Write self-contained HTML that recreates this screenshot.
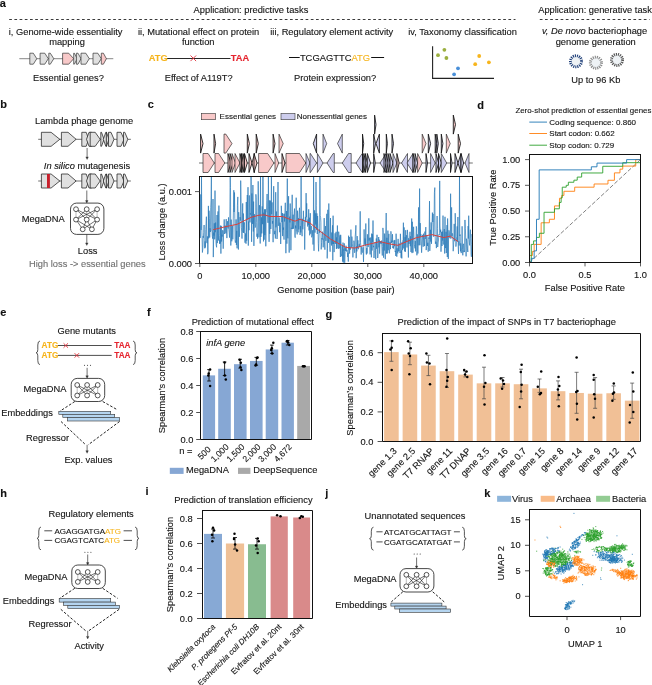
<!DOCTYPE html>
<html><head><meta charset="utf-8"><style>
html,body{margin:0;padding:0;background:#fff;}
svg{display:block;will-change:transform;}
text{font-family:"Liberation Sans", sans-serif;}
</style></head><body>
<svg width="652" height="685" viewBox="0 0 652 685" font-family='"Liberation Sans", sans-serif'>
<rect width="652" height="685" fill="#fff"/>
<text x="-0.30" y="6.70" font-size="11" font-weight="bold" fill="#111" stroke="#111" stroke-width="0.12">a</text>
<text x="193.60" y="13.00" font-size="9.3" fill="#141414" stroke="#141414" stroke-width="0.12">Application: predictive tasks</text>
<line x1="9.20" y1="19.50" x2="515.50" y2="19.50" stroke="#3a3a3a" stroke-width="1.0" stroke-dasharray="2.7,2.5"/>
<text x="538.20" y="12.60" font-size="9.3" fill="#141414" stroke="#141414" stroke-width="0.12">Application: generative task</text>
<line x1="539.80" y1="19.50" x2="649.50" y2="19.50" stroke="#3a3a3a" stroke-width="1.0" stroke-dasharray="2.7,2.5"/>
<text x="8.80" y="34.70" font-size="9.3" fill="#141414" stroke="#141414" stroke-width="0.12">i, Genome-wide essentiality</text>
<text x="67.00" y="45.00" font-size="9.3" text-anchor="middle" fill="#141414" stroke="#141414" stroke-width="0.12">mapping</text>
<text x="137.90" y="34.70" font-size="9.3" fill="#141414" stroke="#141414" stroke-width="0.12">ii, Mutational effect on protein</text>
<text x="198.20" y="45.00" font-size="9.3" text-anchor="middle" fill="#141414" stroke="#141414" stroke-width="0.12">function</text>
<text x="270.30" y="34.70" font-size="9.3" fill="#141414" stroke="#141414" stroke-width="0.12">iii, Regulatory element activity</text>
<text x="408.20" y="34.70" font-size="9.3" fill="#141414" stroke="#141414" stroke-width="0.12">iv, Taxonomy classification</text>
<text x="541.9" y="34.4" font-size="9.3" fill="#141414" stroke="#141414" stroke-width="0.12"><tspan font-style="italic">v, De novo</tspan> bacteriophage</text>
<text x="595.70" y="45.00" font-size="9.3" text-anchor="middle" fill="#141414" stroke="#141414" stroke-width="0.12">genome generation</text>
<line x1="19.30" y1="58.70" x2="113.30" y2="58.70" stroke="#555" stroke-width="0.7"/>
<polygon points="29.80,53.20 33.30,53.20 36.80,58.70 33.30,64.20 29.80,64.20" fill="#E0E0E0" stroke="#333" stroke-width="0.7" stroke-linejoin="round"/>
<polygon points="40.10,53.20 44.80,53.20 48.30,58.70 44.80,64.20 40.10,64.20" fill="#E0E0E0" stroke="#333" stroke-width="0.7" stroke-linejoin="round"/>
<polygon points="48.80,53.20 50.30,53.20 53.80,58.70 50.30,64.20 48.80,64.20" fill="#E0E0E0" stroke="#333" stroke-width="0.7" stroke-linejoin="round"/>
<polygon points="62.60,53.20 68.70,53.20 73.70,58.70 68.70,64.20 62.60,64.20" fill="#F8C9C9" stroke="#333" stroke-width="0.7" stroke-linejoin="round"/>
<polygon points="73.70,53.20 74.30,53.20 77.30,58.70 74.30,64.20 73.70,64.20" fill="#E0E0E0" stroke="#333" stroke-width="0.7" stroke-linejoin="round"/>
<polygon points="76.40,53.20 78.00,53.20 81.00,58.70 78.00,64.20 76.40,64.20" fill="#E0E0E0" stroke="#333" stroke-width="0.7" stroke-linejoin="round"/>
<polygon points="81.00,53.20 85.80,53.20 89.30,58.70 85.80,64.20 81.00,64.20" fill="#E0E0E0" stroke="#333" stroke-width="0.7" stroke-linejoin="round"/>
<polygon points="93.00,53.20 97.80,53.20 101.30,58.70 97.80,64.20 93.00,64.20" fill="#E0E0E0" stroke="#333" stroke-width="0.7" stroke-linejoin="round"/>
<polygon points="101.30,53.20 103.40,53.20 106.40,58.70 103.40,64.20 101.30,64.20" fill="#F8C9C9" stroke="#333" stroke-width="0.7" stroke-linejoin="round"/>
<text x="33.00" y="80.80" font-size="9.3" fill="#141414" stroke="#141414" stroke-width="0.12">Essential genes?</text>
<text x="148.80" y="60.80" font-size="9.3" font-weight="bold" fill="#F6B41C" stroke="#F6B41C" stroke-width="0.12">ATG</text>
<line x1="167.20" y1="58.50" x2="230.50" y2="58.50" stroke="#111" stroke-width="0.9"/>
<line x1="190.50" y1="55.50" x2="196.10" y2="61.10" stroke="#E0303A" stroke-width="0.9"/>
<line x1="190.50" y1="61.10" x2="196.10" y2="55.50" stroke="#E0303A" stroke-width="0.9"/>
<text x="230.80" y="60.80" font-size="9.3" font-weight="bold" fill="#E5252F" stroke="#E5252F" stroke-width="0.12">TAA</text>
<text x="164.70" y="80.50" font-size="9.3" fill="#141414" stroke="#141414" stroke-width="0.12">Effect of A119T?</text>
<line x1="289.00" y1="57.50" x2="299.70" y2="57.50" stroke="#111" stroke-width="1.0"/>
<text x="299.9" y="60.8" font-size="9.4" fill="#141414" stroke="#141414" stroke-width="0.12">TCGAGTTC<tspan fill="#F6B41C" stroke="#F6B41C">ATG</tspan></text>
<line x1="371.20" y1="57.50" x2="384.10" y2="57.50" stroke="#111" stroke-width="1.0"/>
<text x="294.00" y="80.50" font-size="9.3" fill="#141414" stroke="#141414" stroke-width="0.12">Protein expression?</text>
<polyline points="432.60,46.20 432.60,78.40 494.00,78.40" fill="none" stroke="#222" stroke-width="1.1"/>
<circle cx="438.00" cy="55.20" r="1.90" fill="#9BAF3F" stroke="none" stroke-width="0.8"/>
<circle cx="444.40" cy="49.80" r="1.90" fill="#9BAF3F" stroke="none" stroke-width="0.8"/>
<circle cx="446.40" cy="58.00" r="1.90" fill="#9BAF3F" stroke="none" stroke-width="0.8"/>
<circle cx="458.00" cy="68.30" r="1.90" fill="#4A90D9" stroke="none" stroke-width="0.8"/>
<circle cx="454.10" cy="74.30" r="1.90" fill="#4A90D9" stroke="none" stroke-width="0.8"/>
<circle cx="479.20" cy="56.00" r="1.90" fill="#F7B51C" stroke="none" stroke-width="0.8"/>
<circle cx="475.20" cy="64.20" r="1.90" fill="#F7B51C" stroke="none" stroke-width="0.8"/>
<circle cx="488.90" cy="62.30" r="1.90" fill="#F7B51C" stroke="none" stroke-width="0.8"/>
<circle cx="576.00" cy="61.30" r="5.60" fill="#EEF2F5" stroke="#1E3E78" stroke-width="2.8" stroke-dasharray="1.1,0.95"/>
<circle cx="595.90" cy="62.70" r="5.60" fill="#EEF2F5" stroke="#8A8A8A" stroke-width="2.8" stroke-dasharray="1.1,0.95"/>
<circle cx="617.00" cy="59.90" r="5.60" fill="#EEF2F5" stroke="#555555" stroke-width="2.8" stroke-dasharray="1.1,0.95"/>
<text x="571.30" y="83.00" font-size="9.3" fill="#141414" stroke="#141414" stroke-width="0.12">Up to 96 Kb</text>
<text x="0.30" y="107.90" font-size="11" font-weight="bold" fill="#111" stroke="#111" stroke-width="0.12">b</text>
<text x="35.00" y="124.40" font-size="9.3" fill="#141414" stroke="#141414" stroke-width="0.12">Lambda phage genome</text>
<line x1="38.20" y1="139.30" x2="130.90" y2="139.30" stroke="#333" stroke-width="0.7"/>
<polygon points="41.40,132.30 51.10,132.30 59.80,139.30 51.10,146.30 41.40,146.30" fill="#E0E0E0" stroke="#222" stroke-width="0.75" stroke-linejoin="round"/>
<polygon points="61.40,132.30 68.00,132.30 76.10,139.30 68.00,146.30 61.40,146.30" fill="#E0E0E0" stroke="#222" stroke-width="0.75" stroke-linejoin="round"/>
<polygon points="81.80,132.30 86.20,132.30 88.70,139.30 86.20,146.30 81.80,146.30" fill="#E0E0E0" stroke="#222" stroke-width="0.75" stroke-linejoin="round"/>
<polygon points="91.50,132.30 89.00,132.30 86.50,139.30 89.00,146.30 91.50,146.30" fill="#E0E0E0" stroke="#222" stroke-width="0.75" stroke-linejoin="round"/>
<polygon points="90.20,132.30 95.20,132.30 100.20,139.30 95.20,146.30 90.20,146.30" fill="#E0E0E0" stroke="#222" stroke-width="0.75" stroke-linejoin="round"/>
<polygon points="100.80,132.30 101.50,132.30 104.00,139.30 101.50,146.30 100.80,146.30" fill="#E0E0E0" stroke="#222" stroke-width="0.75" stroke-linejoin="round"/>
<polygon points="106.50,132.30 105.80,132.30 103.30,139.30 105.80,146.30 106.50,146.30" fill="#E0E0E0" stroke="#222" stroke-width="0.75" stroke-linejoin="round"/>
<polygon points="106.30,132.30 106.50,132.30 109.00,139.30 106.50,146.30 106.30,146.30" fill="#E0E0E0" stroke="#222" stroke-width="0.75" stroke-linejoin="round"/>
<polygon points="108.50,132.30 111.00,132.30 114.00,139.30 111.00,146.30 108.50,146.30" fill="#E0E0E0" stroke="#222" stroke-width="0.75" stroke-linejoin="round"/>
<polygon points="117.00,132.30 121.00,132.30 124.00,139.30 121.00,146.30 117.00,146.30" fill="#E0E0E0" stroke="#222" stroke-width="0.75" stroke-linejoin="round"/>
<polygon points="123.50,132.30 124.80,132.30 127.80,139.30 124.80,146.30 123.50,146.30" fill="#E0E0E0" stroke="#222" stroke-width="0.75" stroke-linejoin="round"/>
<line x1="87.10" y1="148.00" x2="87.10" y2="157.30" stroke="#333" stroke-width="0.7"/>
<polygon points="85.80,156.90 88.40,156.90 87.10,159.50" fill="#333" stroke="#333" stroke-width="0.3" stroke-linejoin="round"/>
<text x="43.8" y="168.6" font-size="9.3" fill="#141414" stroke="#141414" stroke-width="0.12"><tspan font-style="italic">In silico</tspan> mutagenesis</text>
<line x1="38.20" y1="181.00" x2="130.90" y2="181.00" stroke="#333" stroke-width="0.7"/>
<polygon points="41.40,174.00 51.10,174.00 59.80,181.00 51.10,188.00 41.40,188.00" fill="#E0E0E0" stroke="#222" stroke-width="0.75" stroke-linejoin="round"/>
<polygon points="61.40,174.00 68.00,174.00 76.10,181.00 68.00,188.00 61.40,188.00" fill="#E0E0E0" stroke="#222" stroke-width="0.75" stroke-linejoin="round"/>
<polygon points="81.80,174.00 86.20,174.00 88.70,181.00 86.20,188.00 81.80,188.00" fill="#E0E0E0" stroke="#222" stroke-width="0.75" stroke-linejoin="round"/>
<polygon points="91.50,174.00 89.00,174.00 86.50,181.00 89.00,188.00 91.50,188.00" fill="#E0E0E0" stroke="#222" stroke-width="0.75" stroke-linejoin="round"/>
<polygon points="90.20,174.00 95.20,174.00 100.20,181.00 95.20,188.00 90.20,188.00" fill="#E0E0E0" stroke="#222" stroke-width="0.75" stroke-linejoin="round"/>
<polygon points="100.80,174.00 101.50,174.00 104.00,181.00 101.50,188.00 100.80,188.00" fill="#E0E0E0" stroke="#222" stroke-width="0.75" stroke-linejoin="round"/>
<polygon points="106.50,174.00 105.80,174.00 103.30,181.00 105.80,188.00 106.50,188.00" fill="#E0E0E0" stroke="#222" stroke-width="0.75" stroke-linejoin="round"/>
<polygon points="106.30,174.00 106.50,174.00 109.00,181.00 106.50,188.00 106.30,188.00" fill="#E0E0E0" stroke="#222" stroke-width="0.75" stroke-linejoin="round"/>
<polygon points="108.50,174.00 111.00,174.00 114.00,181.00 111.00,188.00 108.50,188.00" fill="#E0E0E0" stroke="#222" stroke-width="0.75" stroke-linejoin="round"/>
<polygon points="117.00,174.00 121.00,174.00 124.00,181.00 121.00,188.00 117.00,188.00" fill="#E0E0E0" stroke="#222" stroke-width="0.75" stroke-linejoin="round"/>
<polygon points="123.50,174.00 124.80,174.00 127.80,181.00 124.80,188.00 123.50,188.00" fill="#E0E0E0" stroke="#222" stroke-width="0.75" stroke-linejoin="round"/>
<rect x="47.00" y="174.00" width="2.90" height="14.00" fill="#C8202C" stroke="none" stroke-width="0.8"/>
<line x1="86.80" y1="190.50" x2="86.80" y2="201.00" stroke="#333" stroke-width="0.7"/>
<polygon points="85.50,200.60 88.10,200.60 86.80,203.20" fill="#333" stroke="#333" stroke-width="0.3" stroke-linejoin="round"/>
<rect x="70.50" y="203.10" width="33.40" height="31.30" rx="6" ry="6" fill="white" stroke="#333" stroke-width="0.9"/>
<line x1="76.00" y1="209.20" x2="76.00" y2="219.60" stroke="#777" stroke-width="0.5"/>
<line x1="76.00" y1="209.20" x2="86.70" y2="219.60" stroke="#111" stroke-width="0.6"/>
<line x1="76.00" y1="209.20" x2="97.10" y2="219.60" stroke="#111" stroke-width="0.6"/>
<line x1="86.70" y1="209.20" x2="76.00" y2="219.60" stroke="#111" stroke-width="0.6"/>
<line x1="86.70" y1="209.20" x2="86.70" y2="219.60" stroke="#777" stroke-width="0.5"/>
<line x1="86.70" y1="209.20" x2="97.10" y2="219.60" stroke="#111" stroke-width="0.6"/>
<line x1="97.10" y1="209.20" x2="76.00" y2="219.60" stroke="#111" stroke-width="0.6"/>
<line x1="97.10" y1="209.20" x2="86.70" y2="219.60" stroke="#111" stroke-width="0.6"/>
<line x1="97.10" y1="209.20" x2="97.10" y2="219.60" stroke="#777" stroke-width="0.5"/>
<line x1="76.00" y1="219.60" x2="82.70" y2="229.30" stroke="#111" stroke-width="0.6"/>
<line x1="76.00" y1="219.60" x2="91.90" y2="229.30" stroke="#111" stroke-width="0.6"/>
<line x1="86.70" y1="219.60" x2="82.70" y2="229.30" stroke="#111" stroke-width="0.6"/>
<line x1="86.70" y1="219.60" x2="91.90" y2="229.30" stroke="#111" stroke-width="0.6"/>
<line x1="97.10" y1="219.60" x2="82.70" y2="229.30" stroke="#111" stroke-width="0.6"/>
<line x1="97.10" y1="219.60" x2="91.90" y2="229.30" stroke="#111" stroke-width="0.6"/>
<circle cx="76.00" cy="209.20" r="2.40" fill="white" stroke="#111" stroke-width="0.7"/>
<circle cx="86.70" cy="209.20" r="2.40" fill="white" stroke="#111" stroke-width="0.7"/>
<circle cx="97.10" cy="209.20" r="2.40" fill="white" stroke="#111" stroke-width="0.7"/>
<circle cx="76.00" cy="219.60" r="2.40" fill="white" stroke="#111" stroke-width="0.7"/>
<circle cx="86.70" cy="219.60" r="2.40" fill="white" stroke="#111" stroke-width="0.7"/>
<circle cx="97.10" cy="219.60" r="2.40" fill="white" stroke="#111" stroke-width="0.7"/>
<circle cx="82.70" cy="229.30" r="2.40" fill="white" stroke="#111" stroke-width="0.7"/>
<circle cx="91.90" cy="229.30" r="2.40" fill="white" stroke="#111" stroke-width="0.7"/>
<text x="21.80" y="221.90" font-size="9.3" fill="#141414" stroke="#141414" stroke-width="0.12">MegaDNA</text>
<line x1="86.80" y1="234.40" x2="86.80" y2="243.30" stroke="#333" stroke-width="0.7"/>
<polygon points="85.50,242.90 88.10,242.90 86.80,245.50" fill="#333" stroke="#333" stroke-width="0.3" stroke-linejoin="round"/>
<text x="77.80" y="254.40" font-size="9.3" fill="#141414" stroke="#141414" stroke-width="0.12">Loss</text>
<text x="29.10" y="266.80" font-size="9.3" fill="#707070" stroke="#707070" stroke-width="0.12">High loss -&gt; essential genes</text>
<text x="147.80" y="108.30" font-size="11" font-weight="bold" fill="#111" stroke="#111" stroke-width="0.12">c</text>
<rect x="201.40" y="113.50" width="14.20" height="6.20" fill="#F8C9C9" stroke="#333" stroke-width="0.6"/>
<text x="219.60" y="119.00" font-size="8" fill="#141414" stroke="#141414" stroke-width="0.12">Essential genes</text>
<rect x="281.00" y="113.50" width="14.00" height="6.20" fill="#CDCDED" stroke="#333" stroke-width="0.6"/>
<text x="296.80" y="119.00" font-size="8" fill="#141414" stroke="#141414" stroke-width="0.12">Nonessential genes</text>
<line x1="199.00" y1="163.00" x2="472.80" y2="163.00" stroke="#333" stroke-width="0.7"/>
<polygon points="203.00,153.50 208.10,153.50 214.30,163.00 208.10,172.50 203.00,172.50" fill="#F8C9C9" stroke="#111" stroke-width="0.6" stroke-linejoin="round"/>
<polygon points="215.00,153.50 218.60,153.50 224.80,163.00 218.60,172.50 215.00,172.50" fill="#F8C9C9" stroke="#111" stroke-width="0.6" stroke-linejoin="round"/>
<polygon points="228.00,153.50 228.00,153.50 231.00,163.00 228.00,172.50 228.00,172.50" fill="#F8C9C9" stroke="#111" stroke-width="0.85" stroke-linejoin="round"/>
<polygon points="230.00,153.50 230.00,153.50 233.20,163.00 230.00,172.50 230.00,172.50" fill="#F8C9C9" stroke="#111" stroke-width="0.85" stroke-linejoin="round"/>
<polygon points="232.00,153.50 232.00,153.50 235.50,163.00 232.00,172.50 232.00,172.50" fill="#F8C9C9" stroke="#111" stroke-width="0.6" stroke-linejoin="round"/>
<polygon points="235.00,153.50 235.00,153.50 240.00,163.00 235.00,172.50 235.00,172.50" fill="#F8C9C9" stroke="#111" stroke-width="0.6" stroke-linejoin="round"/>
<polygon points="240.00,153.50 240.00,153.50 242.20,163.00 240.00,172.50 240.00,172.50" fill="#F8C9C9" stroke="#111" stroke-width="0.85" stroke-linejoin="round"/>
<polygon points="241.50,153.50 241.50,153.50 243.60,163.00 241.50,172.50 241.50,172.50" fill="#F8C9C9" stroke="#111" stroke-width="0.85" stroke-linejoin="round"/>
<polygon points="243.00,153.50 243.00,153.50 245.20,163.00 243.00,172.50 243.00,172.50" fill="#F8C9C9" stroke="#111" stroke-width="0.85" stroke-linejoin="round"/>
<polygon points="244.50,153.50 244.50,153.50 247.30,163.00 244.50,172.50 244.50,172.50" fill="#F8C9C9" stroke="#111" stroke-width="0.85" stroke-linejoin="round"/>
<polygon points="249.00,153.50 249.00,153.50 252.00,163.00 249.00,172.50 249.00,172.50" fill="#F8C9C9" stroke="#111" stroke-width="0.85" stroke-linejoin="round"/>
<polygon points="254.50,153.50 254.50,153.50 252.00,163.00 254.50,172.50 254.50,172.50" fill="#F8C9C9" stroke="#111" stroke-width="0.85" stroke-linejoin="round"/>
<polygon points="254.00,153.50 254.00,153.50 257.00,163.00 254.00,172.50 254.00,172.50" fill="#F8C9C9" stroke="#111" stroke-width="0.85" stroke-linejoin="round"/>
<polygon points="258.60,153.50 267.70,153.50 273.90,163.00 267.70,172.50 258.60,172.50" fill="#F8C9C9" stroke="#111" stroke-width="0.6" stroke-linejoin="round"/>
<polygon points="275.00,153.50 275.00,153.50 278.70,163.00 275.00,172.50 275.00,172.50" fill="#F8C9C9" stroke="#111" stroke-width="0.6" stroke-linejoin="round"/>
<polygon points="282.00,153.50 282.00,153.50 285.00,163.00 282.00,172.50 282.00,172.50" fill="#F8C9C9" stroke="#111" stroke-width="0.85" stroke-linejoin="round"/>
<polygon points="286.00,153.50 299.60,153.50 305.80,163.00 299.60,172.50 286.00,172.50" fill="#F8C9C9" stroke="#111" stroke-width="0.6" stroke-linejoin="round"/>
<polygon points="306.00,153.50 306.00,153.50 310.00,163.00 306.00,172.50 306.00,172.50" fill="#CDCDED" stroke="#111" stroke-width="0.6" stroke-linejoin="round"/>
<polygon points="310.00,153.50 310.40,153.50 316.60,163.00 310.40,172.50 310.00,172.50" fill="#CDCDED" stroke="#111" stroke-width="0.6" stroke-linejoin="round"/>
<polygon points="317.40,153.50 317.40,153.50 323.00,163.00 317.40,172.50 317.40,172.50" fill="#CDCDED" stroke="#111" stroke-width="0.6" stroke-linejoin="round"/>
<polygon points="334.30,153.50 333.20,153.50 327.00,163.00 333.20,172.50 334.30,172.50" fill="#CDCDED" stroke="#111" stroke-width="0.6" stroke-linejoin="round"/>
<polygon points="351.20,153.50 348.50,153.50 342.30,163.00 348.50,172.50 351.20,172.50" fill="#CDCDED" stroke="#111" stroke-width="0.6" stroke-linejoin="round"/>
<polygon points="362.50,153.50 362.20,153.50 356.00,163.00 362.20,172.50 362.50,172.50" fill="#CDCDED" stroke="#111" stroke-width="0.6" stroke-linejoin="round"/>
<polygon points="362.50,153.50 362.50,153.50 364.20,163.00 362.50,172.50 362.50,172.50" fill="#CDCDED" stroke="#111" stroke-width="0.85" stroke-linejoin="round"/>
<polygon points="363.80,153.50 363.80,153.50 366.00,163.00 363.80,172.50 363.80,172.50" fill="#CDCDED" stroke="#111" stroke-width="0.85" stroke-linejoin="round"/>
<polygon points="365.30,153.50 365.30,153.50 367.30,163.00 365.30,172.50 365.30,172.50" fill="#CDCDED" stroke="#111" stroke-width="0.85" stroke-linejoin="round"/>
<polygon points="367.30,153.50 367.30,153.50 370.50,163.00 367.30,172.50 367.30,172.50" fill="#CDCDED" stroke="#111" stroke-width="0.85" stroke-linejoin="round"/>
<polygon points="373.70,153.50 373.70,153.50 375.30,163.00 373.70,172.50 373.70,172.50" fill="#CDCDED" stroke="#111" stroke-width="0.85" stroke-linejoin="round"/>
<polygon points="386.60,153.50 386.20,153.50 380.00,163.00 386.20,172.50 386.60,172.50" fill="#CDCDED" stroke="#111" stroke-width="0.6" stroke-linejoin="round"/>
<polygon points="384.00,153.50 384.00,153.50 386.20,163.00 384.00,172.50 384.00,172.50" fill="#CDCDED" stroke="#111" stroke-width="0.85" stroke-linejoin="round"/>
<polygon points="386.00,153.50 386.00,153.50 388.20,163.00 386.00,172.50 386.00,172.50" fill="#CDCDED" stroke="#111" stroke-width="0.85" stroke-linejoin="round"/>
<polygon points="388.00,153.50 388.00,153.50 390.20,163.00 388.00,172.50 388.00,172.50" fill="#CDCDED" stroke="#111" stroke-width="0.85" stroke-linejoin="round"/>
<polygon points="390.00,153.50 390.00,153.50 393.00,163.00 390.00,172.50 390.00,172.50" fill="#CDCDED" stroke="#111" stroke-width="0.85" stroke-linejoin="round"/>
<polygon points="393.00,153.50 393.00,153.50 396.90,163.00 393.00,172.50 393.00,172.50" fill="#CDCDED" stroke="#111" stroke-width="0.6" stroke-linejoin="round"/>
<polygon points="396.90,153.50 396.90,153.50 399.20,163.00 396.90,172.50 396.90,172.50" fill="#DDBDBD" stroke="#111" stroke-width="0.85" stroke-linejoin="round"/>
<polygon points="407.50,153.50 407.50,153.50 401.50,163.00 407.50,172.50 407.50,172.50" fill="#CDCDED" stroke="#111" stroke-width="0.6" stroke-linejoin="round"/>
<polygon points="413.00,153.50 413.00,153.50 407.00,163.00 413.00,172.50 413.00,172.50" fill="#CDCDED" stroke="#111" stroke-width="0.6" stroke-linejoin="round"/>
<polygon points="413.00,153.50 413.00,153.50 415.20,163.00 413.00,172.50 413.00,172.50" fill="#CDCDED" stroke="#111" stroke-width="0.85" stroke-linejoin="round"/>
<polygon points="415.00,153.50 415.00,153.50 417.60,163.00 415.00,172.50 415.00,172.50" fill="#CDCDED" stroke="#111" stroke-width="0.85" stroke-linejoin="round"/>
<polygon points="417.60,153.50 417.60,153.50 422.20,163.00 417.60,172.50 417.60,172.50" fill="#F8C9C9" stroke="#111" stroke-width="0.6" stroke-linejoin="round"/>
<polygon points="426.00,153.50 426.00,153.50 427.50,163.00 426.00,172.50 426.00,172.50" fill="#CDCDED" stroke="#111" stroke-width="0.85" stroke-linejoin="round"/>
<polygon points="430.60,153.50 430.60,153.50 435.20,163.00 430.60,172.50 430.60,172.50" fill="#CDCDED" stroke="#111" stroke-width="0.6" stroke-linejoin="round"/>
<polygon points="436.00,153.50 436.00,153.50 438.60,163.00 436.00,172.50 436.00,172.50" fill="#CDCDED" stroke="#111" stroke-width="0.85" stroke-linejoin="round"/>
<polygon points="438.50,153.50 438.50,153.50 441.30,163.00 438.50,172.50 438.50,172.50" fill="#CDCDED" stroke="#111" stroke-width="0.85" stroke-linejoin="round"/>
<polygon points="441.30,153.50 441.30,153.50 446.70,163.00 441.30,172.50 441.30,172.50" fill="#CDCDED" stroke="#111" stroke-width="0.6" stroke-linejoin="round"/>
<polygon points="450.50,153.50 450.50,153.50 452.00,163.00 450.50,172.50 450.50,172.50" fill="#CDCDED" stroke="#111" stroke-width="0.85" stroke-linejoin="round"/>
<polygon points="455.00,153.50 455.00,153.50 458.00,163.00 455.00,172.50 455.00,172.50" fill="#CDCDED" stroke="#111" stroke-width="0.85" stroke-linejoin="round"/>
<polygon points="461.00,153.50 461.00,153.50 458.00,163.00 461.00,172.50 461.00,172.50" fill="#CDCDED" stroke="#111" stroke-width="0.85" stroke-linejoin="round"/>
<polygon points="461.00,153.50 461.00,153.50 463.60,163.00 461.00,172.50 461.00,172.50" fill="#CDCDED" stroke="#111" stroke-width="0.85" stroke-linejoin="round"/>
<polygon points="469.00,153.50 469.00,153.50 465.00,163.00 469.00,172.50 469.00,172.50" fill="#CDCDED" stroke="#111" stroke-width="0.6" stroke-linejoin="round"/>
<polygon points="200.60,134.10 200.60,134.10 203.00,143.60 200.60,153.10 200.60,153.10" fill="#F8C9C9" stroke="#111" stroke-width="0.85" stroke-linejoin="round"/>
<polygon points="214.00,134.10 214.00,134.10 215.60,143.60 214.00,153.10 214.00,153.10" fill="#F8C9C9" stroke="#111" stroke-width="0.85" stroke-linejoin="round"/>
<polygon points="224.00,134.10 225.80,134.10 232.00,143.60 225.80,153.10 224.00,153.10" fill="#F8C9C9" stroke="#111" stroke-width="0.6" stroke-linejoin="round"/>
<polygon points="247.30,134.10 247.30,134.10 249.40,143.60 247.30,153.10 247.30,153.10" fill="#F8C9C9" stroke="#111" stroke-width="0.85" stroke-linejoin="round"/>
<polygon points="256.20,134.10 256.20,134.10 258.30,143.60 256.20,153.10 256.20,153.10" fill="#F8C9C9" stroke="#111" stroke-width="0.85" stroke-linejoin="round"/>
<polygon points="273.10,134.10 273.10,134.10 275.00,143.60 273.10,153.10 273.10,153.10" fill="#F8C9C9" stroke="#111" stroke-width="0.85" stroke-linejoin="round"/>
<polygon points="279.00,134.10 279.00,134.10 283.20,143.60 279.00,153.10 279.00,153.10" fill="#F8C9C9" stroke="#111" stroke-width="0.6" stroke-linejoin="round"/>
<polygon points="316.60,134.10 316.60,134.10 313.30,143.60 316.60,153.10 316.60,153.10" fill="#CDCDED" stroke="#111" stroke-width="0.85" stroke-linejoin="round"/>
<polygon points="323.00,134.10 323.00,134.10 326.70,143.60 323.00,153.10 323.00,153.10" fill="#CDCDED" stroke="#111" stroke-width="0.6" stroke-linejoin="round"/>
<polygon points="342.30,134.10 342.30,134.10 337.50,143.60 342.30,153.10 342.30,153.10" fill="#CDCDED" stroke="#111" stroke-width="0.6" stroke-linejoin="round"/>
<polygon points="362.50,134.10 362.50,134.10 363.70,143.60 362.50,153.10 362.50,153.10" fill="#CDCDED" stroke="#111" stroke-width="0.85" stroke-linejoin="round"/>
<polygon points="373.70,134.10 373.70,134.10 375.50,143.60 373.70,153.10 373.70,153.10" fill="#CDCDED" stroke="#111" stroke-width="0.85" stroke-linejoin="round"/>
<polygon points="379.40,134.10 379.40,134.10 376.00,143.60 379.40,153.10 379.40,153.10" fill="#CDCDED" stroke="#111" stroke-width="0.85" stroke-linejoin="round"/>
<polygon points="386.30,134.10 386.30,134.10 387.40,143.60 386.30,153.10 386.30,153.10" fill="#CDCDED" stroke="#111" stroke-width="0.85" stroke-linejoin="round"/>
<polygon points="392.00,134.10 392.00,134.10 393.50,143.60 392.00,153.10 392.00,153.10" fill="#CDCDED" stroke="#111" stroke-width="0.85" stroke-linejoin="round"/>
<polygon points="422.20,134.10 422.20,134.10 426.00,143.60 422.20,153.10 422.20,153.10" fill="#F8C9C9" stroke="#111" stroke-width="0.6" stroke-linejoin="round"/>
<polygon points="428.30,134.10 428.30,134.10 430.60,143.60 428.30,153.10 428.30,153.10" fill="#CDCDED" stroke="#111" stroke-width="0.85" stroke-linejoin="round"/>
<polygon points="435.20,134.10 435.20,134.10 436.80,143.60 435.20,153.10 435.20,153.10" fill="#CDCDED" stroke="#111" stroke-width="0.85" stroke-linejoin="round"/>
<polygon points="436.80,134.10 436.80,134.10 438.30,143.60 436.80,153.10 436.80,153.10" fill="#CDCDED" stroke="#111" stroke-width="0.85" stroke-linejoin="round"/>
<polygon points="441.30,134.10 441.30,134.10 442.90,143.60 441.30,153.10 441.30,153.10" fill="#CDCDED" stroke="#111" stroke-width="0.85" stroke-linejoin="round"/>
<polygon points="446.30,134.10 446.30,134.10 450.20,143.60 446.30,153.10 446.30,153.10" fill="#F8C9C9" stroke="#111" stroke-width="0.6" stroke-linejoin="round"/>
<polygon points="458.20,134.10 458.20,134.10 460.50,143.60 458.20,153.10 458.20,153.10" fill="#F8C9C9" stroke="#111" stroke-width="0.85" stroke-linejoin="round"/>
<polygon points="374.60,115.10 374.60,115.10 376.00,124.60 374.60,134.10 374.60,134.10" fill="#CDCDED" stroke="#111" stroke-width="0.85" stroke-linejoin="round"/>
<polygon points="453.30,115.10 453.30,115.10 455.50,124.60 453.30,134.10 453.30,134.10" fill="#F8C9C9" stroke="#111" stroke-width="0.85" stroke-linejoin="round"/>
<defs><clipPath id="cclip"><rect x="199.5" y="176.5" width="273.0" height="87.0"/></clipPath></defs>
<g clip-path="url(#cclip)"><polyline points="199.8,225.7 200.1,238.1 200.5,236.9 200.8,194.4 201.1,229.9 201.5,176.0 201.8,228.4 202.1,238.9 202.4,252.5 202.8,248.9 203.1,236.2 203.4,237.7 203.8,232.5 204.1,225.0 204.4,246.4 204.8,248.3 205.1,241.4 205.4,247.5 205.7,229.5 206.1,223.7 206.4,216.7 206.7,242.1 207.1,243.2 207.4,236.4 207.7,254.2 208.1,252.1 208.4,205.9 208.7,238.4 209.0,210.7 209.4,218.4 209.7,237.5 210.0,228.2 210.4,232.0 210.7,207.6 211.0,200.8 211.4,176.0 211.7,230.6 212.0,230.7 212.3,236.3 212.7,238.7 213.0,199.0 213.3,257.1 213.7,232.6 214.0,235.6 214.3,223.3 214.7,239.3 215.0,190.6 215.3,232.2 215.6,222.6 216.0,242.8 216.3,245.9 216.6,247.3 217.0,215.0 217.3,243.1 217.6,226.9 218.0,211.4 218.3,233.5 218.6,240.5 218.9,205.6 219.3,235.4 219.6,243.8 219.9,239.9 220.3,243.5 220.6,225.6 220.9,253.6 221.3,225.9 221.6,241.5 221.9,234.6 222.2,236.6 222.6,230.2 222.9,231.0 223.2,248.7 223.6,230.7 223.9,229.7 224.2,219.4 224.6,234.0 224.9,231.4 225.2,225.6 225.5,226.3 225.9,233.3 226.2,219.1 226.5,226.3 226.9,238.1 227.2,226.7 227.5,221.2 227.9,227.4 228.2,228.4 228.5,217.4 228.8,229.4 229.2,232.8 229.5,237.6 229.8,222.1 230.2,169.1 230.5,187.6 230.8,245.5 231.2,219.6 231.5,238.1 231.8,241.3 232.1,227.7 232.5,226.1 232.8,239.3 233.1,228.0 233.5,207.8 233.8,190.2 234.1,212.0 234.5,192.5 234.8,218.3 235.1,241.0 235.4,242.7 235.8,239.5 236.1,219.4 236.4,245.0 236.8,230.8 237.1,248.3 237.4,205.3 237.8,196.9 238.1,226.9 238.4,249.5 238.7,212.2 239.1,223.4 239.4,236.8 239.7,226.6 240.1,217.1 240.4,220.6 240.7,180.6 241.1,203.3 241.4,227.3 241.7,231.8 242.0,238.6 242.4,216.0 242.7,203.4 243.0,232.5 243.4,213.5 243.7,233.0 244.0,225.5 244.4,222.4 244.7,234.5 245.0,242.7 245.3,237.7 245.7,233.4 246.0,243.7 246.3,202.0 246.7,240.7 247.0,206.6 247.3,195.0 247.7,219.3 248.0,187.2 248.3,245.6 248.6,221.6 249.0,230.2 249.3,195.4 249.6,211.0 250.0,222.4 250.3,213.3 250.6,214.6 251.0,169.0 251.3,181.8 251.6,241.8 251.9,193.5 252.3,220.7 252.6,223.9 252.9,185.0 253.3,231.5 253.6,201.6 253.9,245.9 254.3,217.1 254.6,214.2 254.9,224.4 255.2,227.6 255.6,226.2 255.9,194.3 256.2,197.7 256.6,222.8 256.9,236.7 257.2,233.7 257.6,238.7 257.9,212.0 258.2,181.3 258.5,198.0 258.9,237.3 259.2,210.0 259.5,205.2 259.9,221.3 260.2,243.5 260.5,176.0 260.9,236.9 261.2,232.0 261.5,217.4 261.8,233.4 262.2,206.4 262.5,224.2 262.8,154.1 263.2,178.0 263.5,241.4 263.8,212.7 264.2,239.7 264.5,209.3 264.8,235.1 265.1,229.9 265.5,209.3 265.8,246.3 266.1,213.0 266.5,210.8 266.8,200.7 267.1,194.0 267.5,212.0 267.8,222.4 268.1,222.9 268.4,174.7 268.8,220.3 269.1,241.8 269.4,200.4 269.8,233.9 270.1,208.4 270.4,200.6 270.8,229.0 271.1,217.9 271.4,173.9 271.7,214.2 272.1,202.4 272.4,223.6 272.7,221.0 273.1,242.2 273.4,215.9 273.7,186.2 274.1,228.8 274.4,234.2 274.7,232.2 275.0,230.9 275.4,238.5 275.7,192.2 276.0,227.3 276.4,211.5 276.7,226.2 277.0,239.0 277.4,234.9 277.7,222.0 278.0,182.0 278.3,225.5 278.7,225.9 279.0,217.8 279.3,217.6 279.7,232.2 280.0,222.7 280.3,224.7 280.7,244.0 281.0,230.1 281.3,205.8 281.6,211.5 282.0,222.1 282.3,213.0 282.6,236.1 283.0,213.8 283.3,229.8 283.6,227.6 284.0,239.6 284.3,213.7 284.6,221.5 284.9,216.2 285.3,202.8 285.6,240.6 285.9,253.2 286.3,230.6 286.6,211.0 286.9,243.7 287.3,178.6 287.6,236.0 287.9,238.3 288.2,209.3 288.6,196.2 288.9,236.4 289.2,252.6 289.6,216.7 289.9,222.4 290.2,203.5 290.6,220.8 290.9,250.2 291.2,227.8 291.5,228.8 291.9,211.5 292.2,194.8 292.5,229.1 292.9,218.0 293.2,214.7 293.5,228.7 293.9,219.7 294.2,212.2 294.5,208.6 294.8,235.9 295.2,237.7 295.5,225.6 295.8,228.3 296.2,197.7 296.5,231.4 296.8,231.9 297.2,234.4 297.5,210.7 297.8,224.3 298.1,232.3 298.5,218.2 298.8,229.4 299.1,214.1 299.5,207.8 299.8,219.2 300.1,235.0 300.4,226.1 300.8,232.4 301.1,144.4 301.4,220.1 301.8,231.9 302.1,236.2 302.4,218.8 302.8,229.3 303.1,224.4 303.4,210.8 303.7,220.8 304.1,220.0 304.4,226.7 304.7,249.6 305.1,226.1 305.4,216.9 305.7,221.7 306.1,193.1 306.4,217.2 306.7,203.3 307.0,221.2 307.4,221.9 307.7,226.5 308.0,219.5 308.4,224.9 308.7,209.3 309.0,230.4 309.4,217.7 309.7,235.3 310.0,219.8 310.3,213.2 310.7,233.7 311.0,229.0 311.3,225.9 311.7,237.3 312.0,235.7 312.3,235.6 312.7,230.2 313.0,244.5 313.3,233.6 313.6,176.0 314.0,250.8 314.3,220.7 314.6,210.3 315.0,232.6 315.3,213.3 315.6,224.5 316.0,182.0 316.3,205.6 316.6,229.8 316.9,213.4 317.3,234.0 317.6,216.0 317.9,223.6 318.3,243.4 318.6,251.3 318.9,240.9 319.3,229.5 319.6,232.7 319.9,174.8 320.2,215.7 320.6,217.4 320.9,222.1 321.2,249.4 321.6,242.4 321.9,238.0 322.2,239.6 322.6,231.7 322.9,235.5 323.2,247.3 323.5,238.8 323.9,238.8 324.2,218.1 324.5,242.8 324.9,249.7 325.2,231.1 325.5,226.1 325.9,240.9 326.2,234.2 326.5,220.4 326.8,213.8 327.2,258.4 327.5,248.5 327.8,209.8 328.2,227.3 328.5,242.8 328.8,203.5 329.2,235.3 329.5,236.8 329.8,245.7 330.1,251.7 330.5,218.0 330.8,238.1 331.1,242.4 331.5,245.5 331.8,232.5 332.1,243.9 332.5,225.3 332.8,260.3 333.1,215.7 333.4,244.0 333.8,241.5 334.1,252.1 334.4,244.5 334.8,240.3 335.1,233.3 335.4,242.1 335.8,244.0 336.1,231.8 336.4,248.9 336.7,237.4 337.1,248.3 337.4,225.5 337.7,242.7 338.1,243.7 338.4,248.8 338.7,231.7 339.1,237.0 339.4,237.2 339.7,248.4 340.0,235.3 340.4,257.0 340.7,234.8 341.0,243.9 341.4,253.8 341.7,256.3 342.0,252.6 342.4,245.7 342.7,261.6 343.0,242.6 343.3,262.6 343.7,249.4 344.0,250.5 344.3,243.4 344.7,262.8 345.0,254.7 345.3,248.1 345.7,251.0 346.0,245.7 346.3,246.5 346.6,251.5 347.0,249.8 347.3,250.8 347.6,256.9 348.0,252.8 348.3,261.6 348.6,235.7 349.0,249.3 349.3,237.0 349.6,253.6 349.9,246.7 350.3,249.7 350.6,247.6 350.9,229.6 351.3,247.3 351.6,247.4 351.9,236.6 352.3,243.3 352.6,246.7 352.9,257.4 353.2,249.5 353.6,249.4 353.9,240.7 354.2,242.9 354.6,252.8 354.9,251.4 355.2,236.6 355.6,230.8 355.9,225.3 356.2,258.2 356.5,246.4 356.9,251.4 357.2,236.1 357.5,248.2 357.9,240.3 358.2,249.1 358.5,249.1 358.9,246.6 359.2,244.2 359.5,246.6 359.8,242.5 360.2,211.3 360.5,242.6 360.8,246.3 361.2,254.5 361.5,247.3 361.8,246.5 362.2,251.3 362.5,252.5 362.8,251.5 363.1,247.4 363.5,261.9 363.8,246.6 364.1,229.4 364.5,240.8 364.8,244.7 365.1,238.5 365.5,245.6 365.8,223.5 366.1,252.7 366.4,254.5 366.8,248.0 367.1,253.5 367.4,234.3 367.8,244.7 368.1,247.1 368.4,246.5 368.8,218.3 369.1,240.5 369.4,237.8 369.7,243.8 370.1,254.4 370.4,245.0 370.7,237.5 371.1,250.5 371.4,257.3 371.7,233.6 372.1,250.5 372.4,234.1 372.7,241.9 373.0,220.5 373.4,247.2 373.7,245.8 374.0,258.0 374.4,250.8 374.7,250.4 375.0,242.2 375.4,247.1 375.7,259.3 376.0,249.1 376.3,238.5 376.7,248.8 377.0,234.8 377.3,243.3 377.7,258.0 378.0,254.9 378.3,242.4 378.7,237.0 379.0,247.4 379.3,239.7 379.6,253.6 380.0,241.9 380.3,243.3 380.6,241.3 381.0,243.9 381.3,243.5 381.6,240.6 382.0,251.3 382.3,255.5 382.6,246.4 382.9,227.9 383.3,232.6 383.6,257.7 383.9,243.1 384.3,250.5 384.6,233.6 384.9,244.1 385.3,259.2 385.6,238.0 385.9,229.0 386.2,213.0 386.6,253.5 386.9,237.8 387.2,253.5 387.6,251.2 387.9,230.6 388.2,250.2 388.6,240.4 388.9,233.9 389.2,252.8 389.5,253.3 389.9,241.9 390.2,243.4 390.5,249.1 390.9,231.3 391.2,234.5 391.5,243.0 391.9,240.7 392.2,242.0 392.5,234.2 392.8,248.1 393.2,246.2 393.5,248.5 393.8,240.6 394.2,240.3 394.5,246.2 394.8,240.1 395.2,252.0 395.5,250.9 395.8,256.0 396.1,233.7 396.5,248.8 396.8,256.7 397.1,248.2 397.5,252.0 397.8,253.4 398.1,238.9 398.5,251.4 398.8,247.5 399.1,243.4 399.4,249.9 399.8,251.5 400.1,253.0 400.4,233.8 400.8,244.1 401.1,257.7 401.4,250.4 401.8,258.4 402.1,242.3 402.4,250.1 402.7,240.6 403.1,239.7 403.4,222.7 403.7,248.4 404.1,227.4 404.4,249.2 404.7,251.4 405.1,237.1 405.4,251.8 405.7,230.2 406.0,242.0 406.4,235.3 406.7,236.0 407.0,247.5 407.4,229.9 407.7,234.7 408.0,239.0 408.4,257.5 408.7,238.2 409.0,244.0 409.3,239.8 409.7,238.6 410.0,231.8 410.3,246.2 410.7,236.2 411.0,252.0 411.3,236.6 411.7,218.5 412.0,253.1 412.3,221.8 412.6,244.4 413.0,252.6 413.3,240.5 413.6,226.8 414.0,236.8 414.3,244.2 414.6,246.2 415.0,248.4 415.3,240.9 415.6,251.4 415.9,241.3 416.3,226.4 416.6,228.1 416.9,255.3 417.3,234.3 417.6,240.6 417.9,253.5 418.3,234.2 418.6,207.4 418.9,245.3 419.2,242.3 419.6,188.6 419.9,245.2 420.2,223.1 420.6,236.2 420.9,234.3 421.2,241.0 421.6,252.7 421.9,246.6 422.2,239.3 422.5,234.9 422.9,236.4 423.2,246.7 423.5,233.7 423.9,239.2 424.2,238.9 424.5,246.1 424.9,231.6 425.2,239.0 425.5,232.2 425.8,227.1 426.2,250.1 426.5,246.4 426.8,235.3 427.2,238.9 427.5,245.9 427.8,242.8 428.2,251.7 428.5,247.4 428.8,237.5 429.1,238.9 429.5,201.1 429.8,250.9 430.1,241.2 430.5,229.8 430.8,241.6 431.1,222.4 431.5,243.8 431.8,226.8 432.1,220.9 432.4,212.6 432.8,222.0 433.1,213.9 433.4,236.5 433.8,236.6 434.1,220.4 434.4,192.8 434.8,187.6 435.1,234.4 435.4,243.8 435.7,241.7 436.1,242.2 436.4,248.1 436.7,237.1 437.1,216.0 437.4,228.4 437.7,247.0 438.1,242.9 438.4,241.1 438.7,236.9 439.0,234.2 439.4,234.9 439.7,180.9 440.0,226.0 440.4,232.2 440.7,229.7 441.0,251.7 441.4,236.0 441.7,231.9 442.0,246.0 442.3,231.5 442.7,240.5 443.0,215.6 443.3,243.9 443.7,244.5 444.0,235.2 444.3,229.1 444.7,253.5 445.0,216.8 445.3,246.9 445.6,248.1 446.0,231.8 446.3,253.0 446.6,234.3 447.0,225.1 447.3,257.0 447.6,218.5 448.0,235.7 448.3,258.9 448.6,235.1 448.9,230.3 449.3,231.4 449.6,236.9 449.9,238.2 450.3,231.6 450.6,193.7 450.9,238.6 451.3,229.9 451.6,207.4 451.9,236.0 452.2,233.3 452.6,233.9 452.9,239.3 453.2,251.2 453.6,244.9 453.9,237.4 454.2,223.9 454.6,241.2 454.9,238.4 455.2,213.2 455.5,222.6 455.9,246.6 456.2,244.1 456.5,238.0 456.9,236.6 457.2,226.4 457.5,241.2 457.9,217.0 458.2,246.3 458.5,253.9 458.8,241.2 459.2,245.5 459.5,176.0 459.8,236.0 460.2,234.6 460.5,251.4 460.8,243.4 461.2,253.1 461.5,250.2 461.8,247.0 462.1,226.3 462.5,249.6 462.8,255.3 463.1,245.3 463.5,243.8 463.8,252.2 464.1,250.7 464.5,251.8 464.8,220.1 465.1,220.0 465.4,228.3 465.8,241.9 466.1,256.4 466.4,238.7 466.8,240.7 467.1,244.7 467.4,248.1 467.8,252.0 468.1,226.1 468.4,238.5 468.7,215.7 469.1,239.2 469.4,243.1 469.7,245.4 470.1,233.0 470.4,229.7 470.7,238.5 471.1,254.1 471.4,256.8 471.7,244.6 472.0,234.2 472.4,237.4" fill="none" stroke="#2A7AB8" stroke-width="0.7" stroke-linejoin="round"/>
<polyline points="213.10,229.70 225.00,226.80 237.10,224.30 243.40,221.20 251.20,217.30 259.00,215.20 264.50,214.90 270.00,216.50 282.50,216.50 295.00,221.20 300.00,219.20 310.00,223.00 318.40,230.00 330.70,239.20 346.00,247.50 355.00,248.00 364.40,245.30 379.80,241.60 390.00,244.00 398.00,245.30 408.00,241.00 416.60,237.60 431.90,234.60 444.00,237.60 450.30,236.10 458.00,241.60" fill="none" stroke="#D8403C" stroke-width="1.0"/>
</g>
<rect x="199.50" y="176.50" width="273.00" height="87.00" fill="none" stroke="#111" stroke-width="1.0"/>
<line x1="195.00" y1="263.50" x2="199.70" y2="263.50" stroke="#333" stroke-width="0.8"/>
<text x="192.00" y="266.60" font-size="9.3" text-anchor="end" fill="#141414" stroke="#141414" stroke-width="0.12">0.000</text>
<line x1="195.00" y1="191.60" x2="199.70" y2="191.60" stroke="#333" stroke-width="0.8"/>
<text x="192.00" y="194.70" font-size="9.3" text-anchor="end" fill="#141414" stroke="#141414" stroke-width="0.12">0.001</text>
<line x1="199.80" y1="263.30" x2="199.80" y2="267.00" stroke="#333" stroke-width="0.8"/>
<text x="199.80" y="279.20" font-size="9.3" text-anchor="middle" fill="#141414" stroke="#141414" stroke-width="0.12">0</text>
<line x1="255.80" y1="263.30" x2="255.80" y2="267.00" stroke="#333" stroke-width="0.8"/>
<text x="255.80" y="279.20" font-size="9.3" text-anchor="middle" fill="#141414" stroke="#141414" stroke-width="0.12">10,000</text>
<line x1="311.80" y1="263.30" x2="311.80" y2="267.00" stroke="#333" stroke-width="0.8"/>
<text x="311.80" y="279.20" font-size="9.3" text-anchor="middle" fill="#141414" stroke="#141414" stroke-width="0.12">20,000</text>
<line x1="367.80" y1="263.30" x2="367.80" y2="267.00" stroke="#333" stroke-width="0.8"/>
<text x="367.80" y="279.20" font-size="9.3" text-anchor="middle" fill="#141414" stroke="#141414" stroke-width="0.12">30,000</text>
<line x1="423.80" y1="263.30" x2="423.80" y2="267.00" stroke="#333" stroke-width="0.8"/>
<text x="423.80" y="279.20" font-size="9.3" text-anchor="middle" fill="#141414" stroke="#141414" stroke-width="0.12">40,000</text>
<text x="336.00" y="292.50" font-size="9.3" text-anchor="middle" fill="#141414" stroke="#141414" stroke-width="0.12">Genome position (base pair)</text>
<text x="164.80" y="222.00" font-size="9.3" text-anchor="middle" fill="#141414" stroke="#141414" stroke-width="0.12" transform="rotate(-90 164.80 222.00)">Loss change (a.u.)</text>
<text x="477.30" y="108.60" font-size="11" font-weight="bold" fill="#111" stroke="#111" stroke-width="0.12">d</text>
<text x="515.40" y="112.60" font-size="7.9" fill="#141414" stroke="#141414" stroke-width="0.12">Zero-shot prediction of essential genes</text>
<line x1="529.30" y1="122.10" x2="547.00" y2="122.10" stroke="#1F77B4" stroke-width="0.9"/>
<text x="549.30" y="124.70" font-size="8" fill="#141414" stroke="#141414" stroke-width="0.12">Coding sequence: 0.860</text>
<line x1="529.30" y1="133.50" x2="547.00" y2="133.50" stroke="#FF7F0E" stroke-width="0.9"/>
<text x="549.30" y="136.10" font-size="8" fill="#141414" stroke="#141414" stroke-width="0.12">Start codon: 0.662</text>
<line x1="529.30" y1="145.20" x2="547.00" y2="145.20" stroke="#2CA02C" stroke-width="0.9"/>
<text x="549.30" y="147.80" font-size="8" fill="#141414" stroke="#141414" stroke-width="0.12">Stop codon: 0.729</text>
<line x1="529.50" y1="262.50" x2="640.50" y2="159.60" stroke="#7a7a7a" stroke-width="0.95" stroke-dasharray="4.2,1.9"/>
<defs><clipPath id="dclip"><rect x="529.5" y="154.5" width="111.0" height="108.0"/></clipPath></defs><g clip-path="url(#dclip)">
<polyline points="529.50,262.50 529.50,262.50 529.50,255.50 532.39,255.50 532.39,251.39 534.16,251.39 534.16,244.39 541.15,244.39 541.15,222.78 549.37,222.78 549.37,219.28 554.48,219.28 554.48,205.91 559.47,205.91 559.47,198.29 561.69,198.29 561.69,195.41 563.91,195.41 563.91,191.29 574.68,191.29 574.68,187.18 594.10,187.18 594.10,183.99 607.98,183.99 607.98,180.28 614.41,180.28 614.41,172.87 619.97,172.87 619.97,169.17 622.74,169.17 622.74,166.08 635.73,166.08 635.73,159.60 640.50,159.60 640.50,159.60" fill="none" stroke="#FF7F0E" stroke-width="0.9"/>
<polyline points="529.50,262.50 531.28,262.50 531.28,244.39 533.61,244.39 533.61,240.89 536.49,240.89 536.49,237.39 539.38,237.39 539.38,233.28 544.04,233.28 544.04,212.28 554.48,212.28 554.48,208.79 559.36,208.79 559.36,202.41 561.13,202.41 561.13,197.67 562.25,197.67 562.25,187.18 566.24,187.18 566.24,185.32 568.35,185.32 568.35,182.24 573.90,182.24 573.90,180.18 577.23,180.18 577.23,177.09 581.67,177.09 581.67,172.98 602.76,172.98 602.76,166.29 622.74,166.29 622.74,162.69 640.50,162.69 640.50,159.60" fill="none" stroke="#2CA02C" stroke-width="0.9"/>
<polyline points="529.50,262.50 531.28,262.50 531.28,258.38 534.16,258.38 534.16,250.87 536.49,250.87 536.49,219.28 539.16,219.28 539.16,169.89 591.33,169.89 591.33,166.80 596.99,166.80 596.99,163.10 626.62,163.10 626.62,159.60 640.50,159.60 640.50,159.60" fill="none" stroke="#1F77B4" stroke-width="0.9"/>
</g>
<rect x="529.50" y="154.50" width="111.00" height="108.00" fill="none" stroke="#111" stroke-width="1.0"/>
<line x1="525.00" y1="262.50" x2="529.80" y2="262.50" stroke="#333" stroke-width="0.8"/>
<text x="520.30" y="265.60" font-size="9.3" text-anchor="end" fill="#141414" stroke="#141414" stroke-width="0.12">0.00</text>
<line x1="525.00" y1="236.78" x2="529.80" y2="236.78" stroke="#333" stroke-width="0.8"/>
<text x="520.30" y="239.88" font-size="9.3" text-anchor="end" fill="#141414" stroke="#141414" stroke-width="0.12">0.25</text>
<line x1="525.00" y1="211.05" x2="529.80" y2="211.05" stroke="#333" stroke-width="0.8"/>
<text x="520.30" y="214.15" font-size="9.3" text-anchor="end" fill="#141414" stroke="#141414" stroke-width="0.12">0.50</text>
<line x1="525.00" y1="185.32" x2="529.80" y2="185.32" stroke="#333" stroke-width="0.8"/>
<text x="520.30" y="188.42" font-size="9.3" text-anchor="end" fill="#141414" stroke="#141414" stroke-width="0.12">0.75</text>
<line x1="525.00" y1="159.60" x2="529.80" y2="159.60" stroke="#333" stroke-width="0.8"/>
<text x="520.30" y="162.70" font-size="9.3" text-anchor="end" fill="#141414" stroke="#141414" stroke-width="0.12">1.00</text>
<line x1="529.50" y1="262.80" x2="529.50" y2="266.40" stroke="#333" stroke-width="0.8"/>
<text x="529.50" y="278.20" font-size="9.3" text-anchor="middle" fill="#141414" stroke="#141414" stroke-width="0.12">0.0</text>
<line x1="585.00" y1="262.80" x2="585.00" y2="266.40" stroke="#333" stroke-width="0.8"/>
<text x="585.00" y="278.20" font-size="9.3" text-anchor="middle" fill="#141414" stroke="#141414" stroke-width="0.12">0.5</text>
<line x1="640.50" y1="262.80" x2="640.50" y2="266.40" stroke="#333" stroke-width="0.8"/>
<text x="640.50" y="278.20" font-size="9.3" text-anchor="middle" fill="#141414" stroke="#141414" stroke-width="0.12">1.0</text>
<text x="584.90" y="291.00" font-size="9.3" text-anchor="middle" fill="#141414" stroke="#141414" stroke-width="0.12">False Positive Rate</text>
<text x="495.90" y="207.70" font-size="9.3" text-anchor="middle" fill="#141414" stroke="#141414" stroke-width="0.12" transform="rotate(-90 495.90 207.70)">True Positive Rate</text>
<text x="0.30" y="316.00" font-size="11" font-weight="bold" fill="#111" stroke="#111" stroke-width="0.12">e</text>
<text x="57.50" y="334.30" font-size="9.3" fill="#141414" stroke="#141414" stroke-width="0.12">Gene mutants</text>
<path d="M40.00,341.00 Q37.80,341.00 37.80,345.00 L37.80,349.80 Q37.80,352.80 36.00,352.80 Q37.80,352.80 37.80,355.80 L37.80,360.60 Q37.80,364.60 40.00,364.60" fill="none" stroke="#444" stroke-width="0.9"/>
<path d="M133.00,341.00 Q135.20,341.00 135.20,345.00 L135.20,349.80 Q135.20,352.80 137.00,352.80 Q135.20,352.80 135.20,355.80 L135.20,360.60 Q135.20,364.60 133.00,364.60" fill="none" stroke="#444" stroke-width="0.9"/>
<text x="41.60" y="348.30" font-size="8.2" font-weight="bold" fill="#F6B41C" stroke="#F6B41C" stroke-width="0.12">ATG</text>
<line x1="58.00" y1="345.50" x2="111.70" y2="345.50" stroke="#222" stroke-width="0.8"/>
<line x1="63.60" y1="343.30" x2="68.00" y2="347.70" stroke="#E0303A" stroke-width="0.9"/>
<line x1="63.60" y1="347.70" x2="68.00" y2="343.30" stroke="#E0303A" stroke-width="0.9"/>
<text x="114.30" y="348.30" font-size="8.2" font-weight="bold" fill="#E5252F" stroke="#E5252F" stroke-width="0.12">TAA</text>
<text x="41.60" y="358.20" font-size="8.2" font-weight="bold" fill="#F6B41C" stroke="#F6B41C" stroke-width="0.12">ATG</text>
<line x1="58.00" y1="355.40" x2="111.70" y2="355.40" stroke="#222" stroke-width="0.8"/>
<line x1="74.60" y1="353.20" x2="79.00" y2="357.60" stroke="#E0303A" stroke-width="0.9"/>
<line x1="74.60" y1="357.60" x2="79.00" y2="353.20" stroke="#E0303A" stroke-width="0.9"/>
<text x="114.30" y="358.20" font-size="8.2" font-weight="bold" fill="#E5252F" stroke="#E5252F" stroke-width="0.12">TAA</text>
<circle cx="84.50" cy="365.30" r="0.55" fill="#333" stroke="none" stroke-width="0.8"/>
<circle cx="87.50" cy="365.30" r="0.55" fill="#333" stroke="none" stroke-width="0.8"/>
<circle cx="90.50" cy="365.30" r="0.55" fill="#333" stroke="none" stroke-width="0.8"/>
<line x1="87.10" y1="367.80" x2="87.10" y2="376.20" stroke="#333" stroke-width="0.7"/>
<polygon points="85.80,375.80 88.40,375.80 87.10,378.40" fill="#333" stroke="#333" stroke-width="0.3" stroke-linejoin="round"/>
<rect x="71.20" y="378.40" width="33.50" height="23.10" rx="6" ry="6" fill="white" stroke="#333" stroke-width="0.9"/>
<line x1="77.20" y1="385.00" x2="77.20" y2="395.50" stroke="#777" stroke-width="0.5"/>
<line x1="77.20" y1="385.00" x2="87.10" y2="395.50" stroke="#111" stroke-width="0.6"/>
<line x1="77.20" y1="385.00" x2="97.70" y2="395.50" stroke="#111" stroke-width="0.6"/>
<line x1="87.10" y1="385.00" x2="77.20" y2="395.50" stroke="#111" stroke-width="0.6"/>
<line x1="87.10" y1="385.00" x2="87.10" y2="395.50" stroke="#777" stroke-width="0.5"/>
<line x1="87.10" y1="385.00" x2="97.70" y2="395.50" stroke="#111" stroke-width="0.6"/>
<line x1="97.70" y1="385.00" x2="77.20" y2="395.50" stroke="#111" stroke-width="0.6"/>
<line x1="97.70" y1="385.00" x2="87.10" y2="395.50" stroke="#111" stroke-width="0.6"/>
<line x1="97.70" y1="385.00" x2="97.70" y2="395.50" stroke="#777" stroke-width="0.5"/>
<circle cx="77.20" cy="385.00" r="2.40" fill="white" stroke="#111" stroke-width="0.7"/>
<circle cx="87.10" cy="385.00" r="2.40" fill="white" stroke="#111" stroke-width="0.7"/>
<circle cx="97.70" cy="385.00" r="2.40" fill="white" stroke="#111" stroke-width="0.7"/>
<circle cx="77.20" cy="395.50" r="2.40" fill="white" stroke="#111" stroke-width="0.7"/>
<circle cx="87.10" cy="395.50" r="2.40" fill="white" stroke="#111" stroke-width="0.7"/>
<circle cx="97.70" cy="395.50" r="2.40" fill="white" stroke="#111" stroke-width="0.7"/>
<text x="23.60" y="392.10" font-size="9.3" fill="#141414" stroke="#141414" stroke-width="0.12">MegaDNA</text>
<line x1="74.80" y1="401.50" x2="59.80" y2="411.30" stroke="#1a1a1a" stroke-width="0.95" stroke-dasharray="2.6,1.7"/>
<line x1="102.70" y1="401.50" x2="117.60" y2="409.90" stroke="#1a1a1a" stroke-width="0.95" stroke-dasharray="2.6,1.7"/>
<rect x="58.80" y="411.30" width="51.90" height="3.00" fill="#B5D5F0" stroke="#333" stroke-width="0.6"/>
<rect x="62.80" y="414.30" width="51.90" height="3.20" fill="#B5D5F0" stroke="#333" stroke-width="0.6"/>
<rect x="67.40" y="417.50" width="52.20" height="3.50" fill="#B5D5F0" stroke="#333" stroke-width="0.6"/>
<text x="1.20" y="415.90" font-size="9.3" fill="#141414" stroke="#141414" stroke-width="0.12">Embeddings</text>
<line x1="61.00" y1="421.50" x2="85.70" y2="444.80" stroke="#1a1a1a" stroke-width="0.95" stroke-dasharray="2.6,1.7"/>
<line x1="119.60" y1="421.50" x2="88.20" y2="444.80" stroke="#1a1a1a" stroke-width="0.95" stroke-dasharray="2.6,1.7"/>
<text x="26.10" y="440.80" font-size="9.3" fill="#141414" stroke="#141414" stroke-width="0.12">Regressor</text>
<line x1="87.10" y1="444.80" x2="87.10" y2="451.10" stroke="#333" stroke-width="0.7"/>
<polygon points="85.80,450.70 88.40,450.70 87.10,453.30" fill="#333" stroke="#333" stroke-width="0.3" stroke-linejoin="round"/>
<text x="64.40" y="463.30" font-size="9.3" fill="#141414" stroke="#141414" stroke-width="0.12">Exp. values</text>
<text x="147.00" y="315.50" font-size="11" font-weight="bold" fill="#111" stroke="#111" stroke-width="0.12">f</text>
<text x="252.80" y="324.90" font-size="9.3" text-anchor="middle" fill="#141414" stroke="#141414" stroke-width="0.12">Prediction of mutational effect</text>
<rect x="202.80" y="375.38" width="12.30" height="64.12" fill="#86A7D4" stroke="none" stroke-width="0.8"/>
<rect x="218.20" y="368.76" width="12.60" height="70.74" fill="#86A7D4" stroke="none" stroke-width="0.8"/>
<rect x="234.00" y="364.17" width="12.60" height="75.33" fill="#86A7D4" stroke="none" stroke-width="0.8"/>
<rect x="250.00" y="360.93" width="12.60" height="78.57" fill="#86A7D4" stroke="none" stroke-width="0.8"/>
<rect x="265.70" y="349.45" width="12.50" height="90.05" fill="#86A7D4" stroke="none" stroke-width="0.8"/>
<rect x="281.50" y="342.70" width="12.40" height="96.80" fill="#86A7D4" stroke="none" stroke-width="0.8"/>
<rect x="297.20" y="365.93" width="12.80" height="73.58" fill="#A9A9A9" stroke="none" stroke-width="0.8"/>
<line x1="209.00" y1="369.60" x2="209.00" y2="381.00" stroke="#111" stroke-width="0.9"/>
<line x1="207.20" y1="369.60" x2="210.80" y2="369.60" stroke="#111" stroke-width="0.9"/>
<line x1="207.20" y1="381.00" x2="210.80" y2="381.00" stroke="#111" stroke-width="0.9"/>
<line x1="224.60" y1="362.00" x2="224.60" y2="375.50" stroke="#111" stroke-width="0.9"/>
<line x1="222.80" y1="362.00" x2="226.40" y2="362.00" stroke="#111" stroke-width="0.9"/>
<line x1="222.80" y1="375.50" x2="226.40" y2="375.50" stroke="#111" stroke-width="0.9"/>
<line x1="240.20" y1="359.30" x2="240.20" y2="368.10" stroke="#111" stroke-width="0.9"/>
<line x1="238.40" y1="359.30" x2="242.00" y2="359.30" stroke="#111" stroke-width="0.9"/>
<line x1="238.40" y1="368.10" x2="242.00" y2="368.10" stroke="#111" stroke-width="0.9"/>
<line x1="256.30" y1="357.40" x2="256.30" y2="365.30" stroke="#111" stroke-width="0.9"/>
<line x1="254.50" y1="357.40" x2="258.10" y2="357.40" stroke="#111" stroke-width="0.9"/>
<line x1="254.50" y1="365.30" x2="258.10" y2="365.30" stroke="#111" stroke-width="0.9"/>
<line x1="271.90" y1="345.10" x2="271.90" y2="353.40" stroke="#111" stroke-width="0.9"/>
<line x1="270.10" y1="345.10" x2="273.70" y2="345.10" stroke="#111" stroke-width="0.9"/>
<line x1="270.10" y1="353.40" x2="273.70" y2="353.40" stroke="#111" stroke-width="0.9"/>
<line x1="287.70" y1="340.50" x2="287.70" y2="345.00" stroke="#111" stroke-width="0.9"/>
<line x1="285.90" y1="340.50" x2="289.50" y2="340.50" stroke="#111" stroke-width="0.9"/>
<line x1="285.90" y1="345.00" x2="289.50" y2="345.00" stroke="#111" stroke-width="0.9"/>
<circle cx="208.70" cy="373.60" r="1.25" fill="#000" stroke="none" stroke-width="0.8"/>
<circle cx="210.10" cy="369.60" r="1.25" fill="#000" stroke="none" stroke-width="0.8"/>
<circle cx="210.10" cy="386.10" r="1.25" fill="#000" stroke="none" stroke-width="0.8"/>
<circle cx="208.30" cy="375.50" r="1.25" fill="#000" stroke="none" stroke-width="0.8"/>
<circle cx="224.80" cy="375.50" r="1.25" fill="#000" stroke="none" stroke-width="0.8"/>
<circle cx="225.80" cy="379.50" r="1.25" fill="#000" stroke="none" stroke-width="0.8"/>
<circle cx="224.60" cy="362.60" r="1.25" fill="#000" stroke="none" stroke-width="0.8"/>
<circle cx="239.60" cy="359.80" r="1.25" fill="#000" stroke="none" stroke-width="0.8"/>
<circle cx="240.50" cy="367.20" r="1.25" fill="#000" stroke="none" stroke-width="0.8"/>
<circle cx="241.40" cy="370.00" r="1.25" fill="#000" stroke="none" stroke-width="0.8"/>
<circle cx="240.80" cy="362.80" r="1.25" fill="#000" stroke="none" stroke-width="0.8"/>
<circle cx="257.00" cy="358.00" r="1.25" fill="#000" stroke="none" stroke-width="0.8"/>
<circle cx="256.10" cy="364.40" r="1.25" fill="#000" stroke="none" stroke-width="0.8"/>
<circle cx="255.60" cy="365.50" r="1.25" fill="#000" stroke="none" stroke-width="0.8"/>
<circle cx="257.50" cy="357.60" r="1.25" fill="#000" stroke="none" stroke-width="0.8"/>
<circle cx="273.30" cy="342.70" r="1.25" fill="#000" stroke="none" stroke-width="0.8"/>
<circle cx="271.80" cy="348.20" r="1.25" fill="#000" stroke="none" stroke-width="0.8"/>
<circle cx="272.20" cy="353.40" r="1.25" fill="#000" stroke="none" stroke-width="0.8"/>
<circle cx="271.20" cy="350.00" r="1.25" fill="#000" stroke="none" stroke-width="0.8"/>
<circle cx="287.40" cy="340.90" r="1.25" fill="#000" stroke="none" stroke-width="0.8"/>
<circle cx="289.30" cy="345.10" r="1.25" fill="#000" stroke="none" stroke-width="0.8"/>
<circle cx="288.20" cy="342.50" r="1.25" fill="#000" stroke="none" stroke-width="0.8"/>
<circle cx="286.80" cy="341.50" r="1.25" fill="#000" stroke="none" stroke-width="0.8"/>
<circle cx="302.90" cy="366.30" r="1.25" fill="#000" stroke="none" stroke-width="0.8"/>
<circle cx="304.60" cy="366.30" r="1.25" fill="#000" stroke="none" stroke-width="0.8"/>
<circle cx="303.80" cy="366.20" r="1.25" fill="#000" stroke="none" stroke-width="0.8"/>
<polyline points="200.50,331.50 311.50,331.50 311.50,439.50 200.50,439.50 200.50,331.50" fill="none" stroke="#111" stroke-width="1.0" stroke-linecap="square"/>
<line x1="196.20" y1="439.50" x2="200.50" y2="439.50" stroke="#222" stroke-width="0.8"/>
<text x="193.40" y="442.50" font-size="9.3" text-anchor="end" fill="#141414" stroke="#141414" stroke-width="0.12">0.0</text>
<line x1="196.20" y1="412.50" x2="200.50" y2="412.50" stroke="#222" stroke-width="0.8"/>
<text x="193.40" y="415.50" font-size="9.3" text-anchor="end" fill="#141414" stroke="#141414" stroke-width="0.12">0.2</text>
<line x1="196.20" y1="385.50" x2="200.50" y2="385.50" stroke="#222" stroke-width="0.8"/>
<text x="193.40" y="388.50" font-size="9.3" text-anchor="end" fill="#141414" stroke="#141414" stroke-width="0.12">0.4</text>
<line x1="196.20" y1="358.50" x2="200.50" y2="358.50" stroke="#222" stroke-width="0.8"/>
<text x="193.40" y="361.50" font-size="9.3" text-anchor="end" fill="#141414" stroke="#141414" stroke-width="0.12">0.6</text>
<line x1="196.20" y1="331.50" x2="200.50" y2="331.50" stroke="#222" stroke-width="0.8"/>
<text x="193.40" y="334.50" font-size="9.3" text-anchor="end" fill="#141414" stroke="#141414" stroke-width="0.12">0.8</text>
<text x="206.20" y="345.60" font-size="9.3" font-style="italic" fill="#141414" stroke="#141414" stroke-width="0.12">infA gene</text>
<text x="164.80" y="385.50" font-size="9.3" text-anchor="middle" fill="#141414" stroke="#141414" stroke-width="0.12" transform="rotate(-90 164.80 385.50)">Spearman’s correlation</text>
<text x="179.20" y="454.30" font-size="9.3" fill="#141414" stroke="#141414" stroke-width="0.12">n =</text>
<text x="206.25" y="455.00" font-size="8.5" text-anchor="middle" fill="#141414" stroke="#141414" stroke-width="0.12" transform="rotate(-45 206.25 455.00)">500</text>
<text x="221.75" y="455.00" font-size="8.5" text-anchor="middle" fill="#141414" stroke="#141414" stroke-width="0.12" transform="rotate(-45 221.75 455.00)">1,000</text>
<text x="237.55" y="455.00" font-size="8.5" text-anchor="middle" fill="#141414" stroke="#141414" stroke-width="0.12" transform="rotate(-45 237.55 455.00)">1,500</text>
<text x="253.55" y="455.00" font-size="8.5" text-anchor="middle" fill="#141414" stroke="#141414" stroke-width="0.12" transform="rotate(-45 253.55 455.00)">2,000</text>
<text x="269.25" y="455.00" font-size="8.5" text-anchor="middle" fill="#141414" stroke="#141414" stroke-width="0.12" transform="rotate(-45 269.25 455.00)">3,000</text>
<text x="284.95" y="455.00" font-size="8.5" text-anchor="middle" fill="#141414" stroke="#141414" stroke-width="0.12" transform="rotate(-45 284.95 455.00)">4,672</text>
<rect x="169.80" y="467.80" width="13.80" height="6.10" fill="#86A7D4" stroke="none" stroke-width="0.8"/>
<text x="186.00" y="473.30" font-size="9.3" fill="#141414" stroke="#141414" stroke-width="0.12">MegaDNA</text>
<rect x="238.00" y="467.80" width="12.40" height="6.10" fill="#A9A9A9" stroke="none" stroke-width="0.8"/>
<text x="253.30" y="473.30" font-size="9.3" fill="#141414" stroke="#141414" stroke-width="0.12">DeepSequence</text>
<text x="325.40" y="317.70" font-size="11" font-weight="bold" fill="#111" stroke="#111" stroke-width="0.12">g</text>
<text x="506.70" y="324.70" font-size="9.3" text-anchor="middle" fill="#141414" stroke="#141414" stroke-width="0.12">Prediction of the impact of SNPs in T7 bacteriophage</text>
<rect x="384.10" y="352.11" width="14.60" height="89.39" fill="#F1C096" stroke="none" stroke-width="0.8"/>
<rect x="402.62" y="354.48" width="14.60" height="87.02" fill="#F1C096" stroke="none" stroke-width="0.8"/>
<rect x="421.14" y="365.58" width="14.60" height="75.92" fill="#F1C096" stroke="none" stroke-width="0.8"/>
<rect x="439.66" y="371.20" width="14.60" height="70.30" fill="#F1C096" stroke="none" stroke-width="0.8"/>
<rect x="458.18" y="374.60" width="14.60" height="66.90" fill="#F1C096" stroke="none" stroke-width="0.8"/>
<rect x="476.70" y="383.34" width="14.60" height="58.16" fill="#F1C096" stroke="none" stroke-width="0.8"/>
<rect x="495.22" y="383.34" width="14.60" height="58.16" fill="#F1C096" stroke="none" stroke-width="0.8"/>
<rect x="513.74" y="384.22" width="14.60" height="57.28" fill="#F1C096" stroke="none" stroke-width="0.8"/>
<rect x="532.26" y="388.37" width="14.60" height="53.13" fill="#F1C096" stroke="none" stroke-width="0.8"/>
<rect x="550.78" y="391.18" width="14.60" height="50.32" fill="#F1C096" stroke="none" stroke-width="0.8"/>
<rect x="569.30" y="392.96" width="14.60" height="48.54" fill="#F1C096" stroke="none" stroke-width="0.8"/>
<rect x="587.82" y="393.70" width="14.60" height="47.80" fill="#F1C096" stroke="none" stroke-width="0.8"/>
<rect x="606.34" y="393.25" width="14.60" height="48.25" fill="#F1C096" stroke="none" stroke-width="0.8"/>
<rect x="624.86" y="400.65" width="14.60" height="40.85" fill="#F1C096" stroke="none" stroke-width="0.8"/>
<line x1="391.40" y1="340.90" x2="391.40" y2="361.30" stroke="#444" stroke-width="0.7"/>
<line x1="389.40" y1="340.90" x2="393.40" y2="340.90" stroke="#444" stroke-width="0.7"/>
<line x1="389.40" y1="361.30" x2="393.40" y2="361.30" stroke="#444" stroke-width="0.7"/>
<line x1="409.92" y1="342.20" x2="409.92" y2="364.70" stroke="#444" stroke-width="0.7"/>
<line x1="407.92" y1="342.20" x2="411.92" y2="342.20" stroke="#444" stroke-width="0.7"/>
<line x1="407.92" y1="364.70" x2="411.92" y2="364.70" stroke="#444" stroke-width="0.7"/>
<line x1="428.44" y1="355.30" x2="428.44" y2="375.60" stroke="#444" stroke-width="0.7"/>
<line x1="426.44" y1="355.30" x2="430.44" y2="355.30" stroke="#444" stroke-width="0.7"/>
<line x1="426.44" y1="375.60" x2="430.44" y2="375.60" stroke="#444" stroke-width="0.7"/>
<line x1="446.96" y1="353.50" x2="446.96" y2="387.40" stroke="#444" stroke-width="0.7"/>
<line x1="444.96" y1="353.50" x2="448.96" y2="353.50" stroke="#444" stroke-width="0.7"/>
<line x1="444.96" y1="387.40" x2="448.96" y2="387.40" stroke="#444" stroke-width="0.7"/>
<line x1="465.48" y1="371.70" x2="465.48" y2="376.90" stroke="#444" stroke-width="0.7"/>
<line x1="463.48" y1="371.70" x2="467.48" y2="371.70" stroke="#444" stroke-width="0.7"/>
<line x1="463.48" y1="376.90" x2="467.48" y2="376.90" stroke="#444" stroke-width="0.7"/>
<line x1="484.00" y1="367.20" x2="484.00" y2="398.80" stroke="#444" stroke-width="0.7"/>
<line x1="482.00" y1="367.20" x2="486.00" y2="367.20" stroke="#444" stroke-width="0.7"/>
<line x1="482.00" y1="398.80" x2="486.00" y2="398.80" stroke="#444" stroke-width="0.7"/>
<line x1="502.52" y1="377.50" x2="502.52" y2="387.00" stroke="#444" stroke-width="0.7"/>
<line x1="500.52" y1="377.50" x2="504.52" y2="377.50" stroke="#444" stroke-width="0.7"/>
<line x1="500.52" y1="387.00" x2="504.52" y2="387.00" stroke="#444" stroke-width="0.7"/>
<line x1="521.04" y1="369.20" x2="521.04" y2="398.80" stroke="#444" stroke-width="0.7"/>
<line x1="519.04" y1="369.20" x2="523.04" y2="369.20" stroke="#444" stroke-width="0.7"/>
<line x1="519.04" y1="398.80" x2="523.04" y2="398.80" stroke="#444" stroke-width="0.7"/>
<line x1="539.56" y1="379.00" x2="539.56" y2="392.40" stroke="#444" stroke-width="0.7"/>
<line x1="537.56" y1="379.00" x2="541.56" y2="379.00" stroke="#444" stroke-width="0.7"/>
<line x1="537.56" y1="392.40" x2="541.56" y2="392.40" stroke="#444" stroke-width="0.7"/>
<line x1="558.08" y1="380.90" x2="558.08" y2="399.90" stroke="#444" stroke-width="0.7"/>
<line x1="556.08" y1="380.90" x2="560.08" y2="380.90" stroke="#444" stroke-width="0.7"/>
<line x1="556.08" y1="399.90" x2="560.08" y2="399.90" stroke="#444" stroke-width="0.7"/>
<line x1="576.60" y1="372.30" x2="576.60" y2="413.30" stroke="#444" stroke-width="0.7"/>
<line x1="574.60" y1="372.30" x2="578.60" y2="372.30" stroke="#444" stroke-width="0.7"/>
<line x1="574.60" y1="413.30" x2="578.60" y2="413.30" stroke="#444" stroke-width="0.7"/>
<line x1="595.12" y1="377.60" x2="595.12" y2="408.30" stroke="#444" stroke-width="0.7"/>
<line x1="593.12" y1="377.60" x2="597.12" y2="377.60" stroke="#444" stroke-width="0.7"/>
<line x1="593.12" y1="408.30" x2="597.12" y2="408.30" stroke="#444" stroke-width="0.7"/>
<line x1="613.64" y1="385.90" x2="613.64" y2="399.30" stroke="#444" stroke-width="0.7"/>
<line x1="611.64" y1="385.90" x2="615.64" y2="385.90" stroke="#444" stroke-width="0.7"/>
<line x1="611.64" y1="399.30" x2="615.64" y2="399.30" stroke="#444" stroke-width="0.7"/>
<line x1="632.16" y1="383.10" x2="632.16" y2="418.30" stroke="#444" stroke-width="0.7"/>
<line x1="630.16" y1="383.10" x2="634.16" y2="383.10" stroke="#444" stroke-width="0.7"/>
<line x1="630.16" y1="418.30" x2="634.16" y2="418.30" stroke="#444" stroke-width="0.7"/>
<circle cx="392.20" cy="340.90" r="1.25" fill="#000" stroke="none" stroke-width="0.8"/>
<circle cx="391.70" cy="347.70" r="1.25" fill="#000" stroke="none" stroke-width="0.8"/>
<circle cx="390.40" cy="349.50" r="1.25" fill="#000" stroke="none" stroke-width="0.8"/>
<circle cx="391.70" cy="369.90" r="1.25" fill="#000" stroke="none" stroke-width="0.8"/>
<circle cx="408.10" cy="341.20" r="1.25" fill="#000" stroke="none" stroke-width="0.8"/>
<circle cx="410.70" cy="348.20" r="1.25" fill="#000" stroke="none" stroke-width="0.8"/>
<circle cx="408.70" cy="353.50" r="1.25" fill="#000" stroke="none" stroke-width="0.8"/>
<circle cx="410.00" cy="356.00" r="1.25" fill="#000" stroke="none" stroke-width="0.8"/>
<circle cx="409.40" cy="374.30" r="1.25" fill="#000" stroke="none" stroke-width="0.8"/>
<circle cx="426.40" cy="353.50" r="1.25" fill="#000" stroke="none" stroke-width="0.8"/>
<circle cx="426.90" cy="362.60" r="1.25" fill="#000" stroke="none" stroke-width="0.8"/>
<circle cx="429.50" cy="363.40" r="1.25" fill="#000" stroke="none" stroke-width="0.8"/>
<circle cx="430.00" cy="384.20" r="1.25" fill="#000" stroke="none" stroke-width="0.8"/>
<circle cx="447.20" cy="338.60" r="1.25" fill="#000" stroke="none" stroke-width="0.8"/>
<circle cx="446.50" cy="369.90" r="1.25" fill="#000" stroke="none" stroke-width="0.8"/>
<circle cx="447.80" cy="376.90" r="1.25" fill="#000" stroke="none" stroke-width="0.8"/>
<circle cx="447.20" cy="380.80" r="1.25" fill="#000" stroke="none" stroke-width="0.8"/>
<circle cx="446.50" cy="386.80" r="1.25" fill="#000" stroke="none" stroke-width="0.8"/>
<circle cx="464.20" cy="369.90" r="1.25" fill="#000" stroke="none" stroke-width="0.8"/>
<circle cx="466.50" cy="371.50" r="1.25" fill="#000" stroke="none" stroke-width="0.8"/>
<circle cx="465.00" cy="374.50" r="1.25" fill="#000" stroke="none" stroke-width="0.8"/>
<circle cx="467.30" cy="376.90" r="1.25" fill="#000" stroke="none" stroke-width="0.8"/>
<circle cx="484.50" cy="355.20" r="1.25" fill="#000" stroke="none" stroke-width="0.8"/>
<circle cx="485.40" cy="383.10" r="1.25" fill="#000" stroke="none" stroke-width="0.8"/>
<circle cx="484.00" cy="386.80" r="1.25" fill="#000" stroke="none" stroke-width="0.8"/>
<circle cx="484.50" cy="404.40" r="1.25" fill="#000" stroke="none" stroke-width="0.8"/>
<circle cx="500.70" cy="378.40" r="1.25" fill="#000" stroke="none" stroke-width="0.8"/>
<circle cx="503.00" cy="380.40" r="1.25" fill="#000" stroke="none" stroke-width="0.8"/>
<circle cx="504.00" cy="384.00" r="1.25" fill="#000" stroke="none" stroke-width="0.8"/>
<circle cx="502.10" cy="388.70" r="1.25" fill="#000" stroke="none" stroke-width="0.8"/>
<circle cx="521.60" cy="364.70" r="1.25" fill="#000" stroke="none" stroke-width="0.8"/>
<circle cx="520.80" cy="372.00" r="1.25" fill="#000" stroke="none" stroke-width="0.8"/>
<circle cx="521.60" cy="384.80" r="1.25" fill="#000" stroke="none" stroke-width="0.8"/>
<circle cx="521.10" cy="391.50" r="1.25" fill="#000" stroke="none" stroke-width="0.8"/>
<circle cx="519.70" cy="406.90" r="1.25" fill="#000" stroke="none" stroke-width="0.8"/>
<circle cx="541.20" cy="371.40" r="1.25" fill="#000" stroke="none" stroke-width="0.8"/>
<circle cx="537.80" cy="386.80" r="1.25" fill="#000" stroke="none" stroke-width="0.8"/>
<circle cx="539.80" cy="394.30" r="1.25" fill="#000" stroke="none" stroke-width="0.8"/>
<circle cx="541.00" cy="393.00" r="1.25" fill="#000" stroke="none" stroke-width="0.8"/>
<circle cx="558.50" cy="377.00" r="1.25" fill="#000" stroke="none" stroke-width="0.8"/>
<circle cx="559.30" cy="385.90" r="1.25" fill="#000" stroke="none" stroke-width="0.8"/>
<circle cx="557.90" cy="389.60" r="1.25" fill="#000" stroke="none" stroke-width="0.8"/>
<circle cx="558.80" cy="395.10" r="1.25" fill="#000" stroke="none" stroke-width="0.8"/>
<circle cx="558.80" cy="406.30" r="1.25" fill="#000" stroke="none" stroke-width="0.8"/>
<circle cx="576.60" cy="357.50" r="1.25" fill="#000" stroke="none" stroke-width="0.8"/>
<circle cx="577.50" cy="391.00" r="1.25" fill="#000" stroke="none" stroke-width="0.8"/>
<circle cx="576.20" cy="392.00" r="1.25" fill="#000" stroke="none" stroke-width="0.8"/>
<circle cx="576.90" cy="403.80" r="1.25" fill="#000" stroke="none" stroke-width="0.8"/>
<circle cx="577.20" cy="419.40" r="1.25" fill="#000" stroke="none" stroke-width="0.8"/>
<circle cx="593.70" cy="375.00" r="1.25" fill="#000" stroke="none" stroke-width="0.8"/>
<circle cx="593.70" cy="379.80" r="1.25" fill="#000" stroke="none" stroke-width="0.8"/>
<circle cx="594.20" cy="394.30" r="1.25" fill="#000" stroke="none" stroke-width="0.8"/>
<circle cx="595.00" cy="398.80" r="1.25" fill="#000" stroke="none" stroke-width="0.8"/>
<circle cx="593.70" cy="417.50" r="1.25" fill="#000" stroke="none" stroke-width="0.8"/>
<circle cx="613.80" cy="383.40" r="1.25" fill="#000" stroke="none" stroke-width="0.8"/>
<circle cx="612.90" cy="393.80" r="1.25" fill="#000" stroke="none" stroke-width="0.8"/>
<circle cx="612.40" cy="400.70" r="1.25" fill="#000" stroke="none" stroke-width="0.8"/>
<circle cx="614.00" cy="392.50" r="1.25" fill="#000" stroke="none" stroke-width="0.8"/>
<circle cx="632.80" cy="372.50" r="1.25" fill="#000" stroke="none" stroke-width="0.8"/>
<circle cx="633.30" cy="391.50" r="1.25" fill="#000" stroke="none" stroke-width="0.8"/>
<circle cx="630.00" cy="404.90" r="1.25" fill="#000" stroke="none" stroke-width="0.8"/>
<circle cx="633.30" cy="411.90" r="1.25" fill="#000" stroke="none" stroke-width="0.8"/>
<circle cx="629.70" cy="422.50" r="1.25" fill="#000" stroke="none" stroke-width="0.8"/>
<polyline points="382.50,333.50 640.50,333.50 640.50,441.50 382.50,441.50 382.50,333.50" fill="none" stroke="#111" stroke-width="1.0" stroke-linecap="square"/>
<line x1="377.60" y1="441.50" x2="382.50" y2="441.50" stroke="#222" stroke-width="0.8"/>
<text x="373.40" y="444.60" font-size="9.3" text-anchor="end" fill="#141414" stroke="#141414" stroke-width="0.12">0.0</text>
<line x1="377.60" y1="411.90" x2="382.50" y2="411.90" stroke="#222" stroke-width="0.8"/>
<text x="373.40" y="415.00" font-size="9.3" text-anchor="end" fill="#141414" stroke="#141414" stroke-width="0.12">0.2</text>
<line x1="377.60" y1="382.30" x2="382.50" y2="382.30" stroke="#222" stroke-width="0.8"/>
<text x="373.40" y="385.40" font-size="9.3" text-anchor="end" fill="#141414" stroke="#141414" stroke-width="0.12">0.4</text>
<line x1="377.60" y1="352.70" x2="382.50" y2="352.70" stroke="#222" stroke-width="0.8"/>
<text x="373.40" y="355.80" font-size="9.3" text-anchor="end" fill="#141414" stroke="#141414" stroke-width="0.12">0.6</text>
<text x="353.40" y="387.90" font-size="9.3" text-anchor="middle" fill="#141414" stroke="#141414" stroke-width="0.12" transform="rotate(-90 353.40 387.90)">Spearman’s correlation</text>
<text x="397.40" y="451.70" font-size="9.3" text-anchor="end" fill="#141414" stroke="#141414" stroke-width="0.12" transform="rotate(-45 397.40 451.70)">gene 1.3</text>
<text x="415.92" y="451.70" font-size="9.3" text-anchor="end" fill="#141414" stroke="#141414" stroke-width="0.12" transform="rotate(-45 415.92 451.70)">gene 2.5</text>
<text x="434.44" y="451.70" font-size="9.3" text-anchor="end" fill="#141414" stroke="#141414" stroke-width="0.12" transform="rotate(-45 434.44 451.70)">T7 RNAP</text>
<text x="452.96" y="451.70" font-size="9.3" text-anchor="end" fill="#141414" stroke="#141414" stroke-width="0.12" transform="rotate(-45 452.96 451.70)">gene 11</text>
<text x="471.48" y="451.70" font-size="9.3" text-anchor="end" fill="#141414" stroke="#141414" stroke-width="0.12" transform="rotate(-45 471.48 451.70)">T7 DNAP</text>
<text x="490.00" y="451.70" font-size="9.3" text-anchor="end" fill="#141414" stroke="#141414" stroke-width="0.12" transform="rotate(-45 490.00 451.70)">gene 3.5</text>
<text x="508.52" y="451.70" font-size="9.3" text-anchor="end" fill="#141414" stroke="#141414" stroke-width="0.12" transform="rotate(-45 508.52 451.70)">gene 16</text>
<text x="527.04" y="451.70" font-size="9.3" text-anchor="end" fill="#141414" stroke="#141414" stroke-width="0.12" transform="rotate(-45 527.04 451.70)">gene 0.7</text>
<text x="545.56" y="451.70" font-size="9.3" text-anchor="end" fill="#141414" stroke="#141414" stroke-width="0.12" transform="rotate(-45 545.56 451.70)">gene 15</text>
<text x="564.08" y="451.70" font-size="9.3" text-anchor="end" fill="#141414" stroke="#141414" stroke-width="0.12" transform="rotate(-45 564.08 451.70)">gene 8</text>
<text x="582.60" y="451.70" font-size="9.3" text-anchor="end" fill="#141414" stroke="#141414" stroke-width="0.12" transform="rotate(-45 582.60 451.70)">gene 14</text>
<text x="601.12" y="451.70" font-size="9.3" text-anchor="end" fill="#141414" stroke="#141414" stroke-width="0.12" transform="rotate(-45 601.12 451.70)">gene 9</text>
<text x="619.64" y="451.70" font-size="9.3" text-anchor="end" fill="#141414" stroke="#141414" stroke-width="0.12" transform="rotate(-45 619.64 451.70)">gene 12</text>
<text x="638.16" y="451.70" font-size="9.3" text-anchor="end" fill="#141414" stroke="#141414" stroke-width="0.12" transform="rotate(-45 638.16 451.70)">gene 17</text>
<text x="0.30" y="497.00" font-size="11" font-weight="bold" fill="#111" stroke="#111" stroke-width="0.12">h</text>
<text x="48.50" y="516.90" font-size="9.3" fill="#141414" stroke="#141414" stroke-width="0.12">Regulatory elements</text>
<path d="M41.00,527.00 Q38.80,527.00 38.80,531.00 L38.80,535.40 Q38.80,538.40 37.00,538.40 Q38.80,538.40 38.80,541.40 L38.80,545.80 Q38.80,549.80 41.00,549.80" fill="none" stroke="#444" stroke-width="0.9"/>
<path d="M135.00,527.00 Q137.20,527.00 137.20,531.00 L137.20,535.40 Q137.20,538.40 139.00,538.40 Q137.20,538.40 137.20,541.40 L137.20,545.80 Q137.20,549.80 135.00,549.80" fill="none" stroke="#444" stroke-width="0.9"/>
<line x1="44.30" y1="530.80" x2="52.20" y2="530.80" stroke="#222" stroke-width="0.8"/>
<text x="54.5" y="533.8" font-size="8" fill="#141414" stroke="#141414" stroke-width="0.12">AGAGGATGA<tspan fill="#F6B41C" stroke="#F6B41C">ATG</tspan></text>
<line x1="123.60" y1="530.80" x2="132.00" y2="530.80" stroke="#222" stroke-width="0.8"/>
<line x1="44.30" y1="540.40" x2="52.20" y2="540.40" stroke="#222" stroke-width="0.8"/>
<text x="54.5" y="543.4" font-size="8" fill="#141414" stroke="#141414" stroke-width="0.12">CGAGTCATC<tspan fill="#F6B41C" stroke="#F6B41C">ATG</tspan></text>
<line x1="123.60" y1="540.40" x2="132.00" y2="540.40" stroke="#222" stroke-width="0.8"/>
<circle cx="84.90" cy="552.20" r="0.55" fill="#333" stroke="none" stroke-width="0.8"/>
<circle cx="87.90" cy="552.20" r="0.55" fill="#333" stroke="none" stroke-width="0.8"/>
<circle cx="90.90" cy="552.20" r="0.55" fill="#333" stroke="none" stroke-width="0.8"/>
<line x1="87.70" y1="554.50" x2="87.70" y2="563.00" stroke="#333" stroke-width="0.7"/>
<polygon points="86.40,562.60 89.00,562.60 87.70,565.20" fill="#333" stroke="#333" stroke-width="0.3" stroke-linejoin="round"/>
<rect x="71.80" y="565.00" width="33.50" height="23.50" rx="6" ry="6" fill="white" stroke="#333" stroke-width="0.9"/>
<line x1="77.80" y1="572.00" x2="77.80" y2="581.90" stroke="#777" stroke-width="0.5"/>
<line x1="77.80" y1="572.00" x2="87.70" y2="581.90" stroke="#111" stroke-width="0.6"/>
<line x1="77.80" y1="572.00" x2="97.70" y2="581.90" stroke="#111" stroke-width="0.6"/>
<line x1="87.70" y1="572.00" x2="77.80" y2="581.90" stroke="#111" stroke-width="0.6"/>
<line x1="87.70" y1="572.00" x2="87.70" y2="581.90" stroke="#777" stroke-width="0.5"/>
<line x1="87.70" y1="572.00" x2="97.70" y2="581.90" stroke="#111" stroke-width="0.6"/>
<line x1="97.70" y1="572.00" x2="77.80" y2="581.90" stroke="#111" stroke-width="0.6"/>
<line x1="97.70" y1="572.00" x2="87.70" y2="581.90" stroke="#111" stroke-width="0.6"/>
<line x1="97.70" y1="572.00" x2="97.70" y2="581.90" stroke="#777" stroke-width="0.5"/>
<circle cx="77.80" cy="572.00" r="2.40" fill="white" stroke="#111" stroke-width="0.7"/>
<circle cx="87.70" cy="572.00" r="2.40" fill="white" stroke="#111" stroke-width="0.7"/>
<circle cx="97.70" cy="572.00" r="2.40" fill="white" stroke="#111" stroke-width="0.7"/>
<circle cx="77.80" cy="581.90" r="2.40" fill="white" stroke="#111" stroke-width="0.7"/>
<circle cx="87.70" cy="581.90" r="2.40" fill="white" stroke="#111" stroke-width="0.7"/>
<circle cx="97.70" cy="581.90" r="2.40" fill="white" stroke="#111" stroke-width="0.7"/>
<text x="24.60" y="579.90" font-size="9.3" fill="#141414" stroke="#141414" stroke-width="0.12">MegaDNA</text>
<line x1="74.80" y1="588.30" x2="59.80" y2="598.30" stroke="#1a1a1a" stroke-width="0.95" stroke-dasharray="2.6,1.7"/>
<line x1="102.70" y1="588.30" x2="117.60" y2="598.30" stroke="#1a1a1a" stroke-width="0.95" stroke-dasharray="2.6,1.7"/>
<rect x="59.20" y="598.50" width="51.50" height="3.60" fill="#B5D5F0" stroke="#333" stroke-width="0.6"/>
<rect x="63.40" y="602.10" width="51.90" height="3.20" fill="#B5D5F0" stroke="#333" stroke-width="0.6"/>
<rect x="67.80" y="605.30" width="51.80" height="3.20" fill="#B5D5F0" stroke="#333" stroke-width="0.6"/>
<text x="2.70" y="603.50" font-size="9.3" fill="#141414" stroke="#141414" stroke-width="0.12">Embeddings</text>
<line x1="60.80" y1="609.30" x2="85.70" y2="630.80" stroke="#1a1a1a" stroke-width="0.95" stroke-dasharray="2.6,1.7"/>
<line x1="119.20" y1="609.30" x2="88.70" y2="630.80" stroke="#1a1a1a" stroke-width="0.95" stroke-dasharray="2.6,1.7"/>
<text x="28.60" y="626.80" font-size="9.3" fill="#141414" stroke="#141414" stroke-width="0.12">Regressor</text>
<line x1="87.70" y1="630.80" x2="87.70" y2="636.80" stroke="#333" stroke-width="0.7"/>
<polygon points="86.40,636.40 89.00,636.40 87.70,639.00" fill="#333" stroke="#333" stroke-width="0.3" stroke-linejoin="round"/>
<text x="74.50" y="648.70" font-size="9.3" fill="#141414" stroke="#141414" stroke-width="0.12">Activity</text>
<text x="145.60" y="495.00" font-size="11" font-weight="bold" fill="#111" stroke="#111" stroke-width="0.12">i</text>
<text x="243.40" y="503.20" font-size="9.3" text-anchor="middle" fill="#141414" stroke="#141414" stroke-width="0.12">Prediction of translation efficiency</text>
<rect x="204.00" y="533.88" width="18.00" height="84.62" fill="#87A9D5" stroke="none" stroke-width="0.8"/>
<rect x="225.90" y="543.50" width="18.20" height="75.00" fill="#EFC096" stroke="none" stroke-width="0.8"/>
<rect x="248.00" y="544.25" width="18.00" height="74.25" fill="#88BC90" stroke="none" stroke-width="0.8"/>
<rect x="270.60" y="516.38" width="17.20" height="102.12" fill="#D98A8A" stroke="none" stroke-width="0.8"/>
<rect x="293.20" y="517.50" width="16.90" height="101.00" fill="#D98A8A" stroke="none" stroke-width="0.8"/>
<line x1="213.00" y1="529.00" x2="213.00" y2="538.00" stroke="#111" stroke-width="0.85"/>
<line x1="211.00" y1="529.00" x2="215.00" y2="529.00" stroke="#111" stroke-width="0.85"/>
<line x1="211.00" y1="538.00" x2="215.00" y2="538.00" stroke="#111" stroke-width="0.85"/>
<line x1="235.00" y1="537.50" x2="235.00" y2="549.10" stroke="#111" stroke-width="0.85"/>
<line x1="233.00" y1="537.50" x2="237.00" y2="537.50" stroke="#111" stroke-width="0.85"/>
<line x1="233.00" y1="549.10" x2="237.00" y2="549.10" stroke="#111" stroke-width="0.85"/>
<line x1="257.00" y1="538.40" x2="257.00" y2="549.10" stroke="#111" stroke-width="0.85"/>
<line x1="255.00" y1="538.40" x2="259.00" y2="538.40" stroke="#111" stroke-width="0.85"/>
<line x1="255.00" y1="549.10" x2="259.00" y2="549.10" stroke="#111" stroke-width="0.85"/>
<circle cx="213.00" cy="527.70" r="1.25" fill="#000" stroke="none" stroke-width="0.8"/>
<circle cx="214.10" cy="530.50" r="1.25" fill="#000" stroke="none" stroke-width="0.8"/>
<circle cx="212.00" cy="534.80" r="1.25" fill="#000" stroke="none" stroke-width="0.8"/>
<circle cx="212.40" cy="541.20" r="1.25" fill="#000" stroke="none" stroke-width="0.8"/>
<circle cx="234.50" cy="533.70" r="1.25" fill="#000" stroke="none" stroke-width="0.8"/>
<circle cx="234.00" cy="539.00" r="1.25" fill="#000" stroke="none" stroke-width="0.8"/>
<circle cx="235.10" cy="544.40" r="1.25" fill="#000" stroke="none" stroke-width="0.8"/>
<circle cx="237.00" cy="550.40" r="1.25" fill="#000" stroke="none" stroke-width="0.8"/>
<circle cx="257.70" cy="538.40" r="1.25" fill="#000" stroke="none" stroke-width="0.8"/>
<circle cx="258.70" cy="541.20" r="1.25" fill="#000" stroke="none" stroke-width="0.8"/>
<circle cx="256.00" cy="545.50" r="1.25" fill="#000" stroke="none" stroke-width="0.8"/>
<circle cx="257.70" cy="553.00" r="1.25" fill="#000" stroke="none" stroke-width="0.8"/>
<circle cx="277.10" cy="515.30" r="1.25" fill="#000" stroke="none" stroke-width="0.8"/>
<circle cx="280.50" cy="516.20" r="1.25" fill="#000" stroke="none" stroke-width="0.8"/>
<circle cx="299.80" cy="517.90" r="1.25" fill="#000" stroke="none" stroke-width="0.8"/>
<circle cx="301.30" cy="516.20" r="1.25" fill="#000" stroke="none" stroke-width="0.8"/>
<circle cx="302.80" cy="516.80" r="1.25" fill="#000" stroke="none" stroke-width="0.8"/>
<polyline points="202.50,510.50 312.50,510.50 312.50,618.50 202.50,618.50 202.50,510.50" fill="none" stroke="#111" stroke-width="1.0" stroke-linecap="square"/>
<line x1="197.00" y1="618.50" x2="202.50" y2="618.50" stroke="#222" stroke-width="0.8"/>
<text x="192.80" y="621.60" font-size="9.3" text-anchor="end" fill="#141414" stroke="#141414" stroke-width="0.12">0.0</text>
<line x1="197.00" y1="593.50" x2="202.50" y2="593.50" stroke="#222" stroke-width="0.8"/>
<text x="192.80" y="596.60" font-size="9.3" text-anchor="end" fill="#141414" stroke="#141414" stroke-width="0.12">0.2</text>
<line x1="197.00" y1="568.50" x2="202.50" y2="568.50" stroke="#222" stroke-width="0.8"/>
<text x="192.80" y="571.60" font-size="9.3" text-anchor="end" fill="#141414" stroke="#141414" stroke-width="0.12">0.4</text>
<line x1="197.00" y1="543.50" x2="202.50" y2="543.50" stroke="#222" stroke-width="0.8"/>
<text x="192.80" y="546.60" font-size="9.3" text-anchor="end" fill="#141414" stroke="#141414" stroke-width="0.12">0.6</text>
<line x1="197.00" y1="518.50" x2="202.50" y2="518.50" stroke="#222" stroke-width="0.8"/>
<text x="192.80" y="521.60" font-size="9.3" text-anchor="end" fill="#141414" stroke="#141414" stroke-width="0.12">0.8</text>
<text x="172.60" y="564.50" font-size="9.3" text-anchor="middle" fill="#141414" stroke="#141414" stroke-width="0.12" transform="rotate(-90 172.60 564.50)">Spearman’s correlation</text>
<text x="215.80" y="627.30" font-size="8.0" text-anchor="end" font-style="italic" fill="#141414" stroke="#141414" stroke-width="0.12" transform="rotate(-45 215.80 627.30)">Klebsiella oxytoca</text>
<text x="237.80" y="627.30" font-size="8.0" text-anchor="end" font-style="italic" fill="#141414" stroke="#141414" stroke-width="0.12" transform="rotate(-45 237.80 627.30)">P. protegens Pf-5</text>
<text x="259.80" y="627.30" font-size="8.0" text-anchor="end" font-style="italic" fill="#141414" stroke="#141414" stroke-width="0.12" transform="rotate(-45 259.80 627.30)">Escherichia coli DH10B</text>
<text x="282.00" y="627.30" font-size="8.1" text-anchor="end" fill="#141414" stroke="#141414" stroke-width="0.12" transform="rotate(-45 282.00 627.30)">Evfratov et al. 20nt</text>
<text x="304.40" y="627.30" font-size="8.1" text-anchor="end" fill="#141414" stroke="#141414" stroke-width="0.12" transform="rotate(-45 304.40 627.30)">Evfratov et al. 30nt</text>
<text x="325.20" y="497.30" font-size="11" font-weight="bold" fill="#111" stroke="#111" stroke-width="0.12">j</text>
<text x="364.60" y="518.60" font-size="9.3" fill="#141414" stroke="#141414" stroke-width="0.12">Unannotated sequences</text>
<path d="M373.50,527.20 Q371.30,527.20 371.30,531.20 L371.30,535.70 Q371.30,538.70 369.50,538.70 Q371.30,538.70 371.30,541.70 L371.30,546.20 Q371.30,550.20 373.50,550.20" fill="none" stroke="#444" stroke-width="0.9"/>
<path d="M462.20,527.20 Q464.40,527.20 464.40,531.20 L464.40,535.70 Q464.40,538.70 466.20,538.70 Q464.40,538.70 464.40,541.70 L464.40,546.20 Q464.40,550.20 462.20,550.20" fill="none" stroke="#444" stroke-width="0.9"/>
<line x1="376.40" y1="531.80" x2="382.60" y2="531.80" stroke="#222" stroke-width="0.8"/>
<text x="384.10" y="534.80" font-size="8" fill="#141414" stroke="#141414" stroke-width="0.12">ATCATGCATTAGT</text>
<line x1="453.90" y1="531.80" x2="459.90" y2="531.80" stroke="#222" stroke-width="0.8"/>
<line x1="376.40" y1="541.90" x2="382.60" y2="541.90" stroke="#222" stroke-width="0.8"/>
<text x="384.10" y="544.90" font-size="8" fill="#141414" stroke="#141414" stroke-width="0.12">CGATGCATATGAT</text>
<line x1="453.90" y1="541.90" x2="459.90" y2="541.90" stroke="#222" stroke-width="0.8"/>
<circle cx="414.20" cy="554.00" r="0.55" fill="#333" stroke="none" stroke-width="0.8"/>
<circle cx="417.20" cy="554.00" r="0.55" fill="#333" stroke="none" stroke-width="0.8"/>
<circle cx="420.20" cy="554.00" r="0.55" fill="#333" stroke="none" stroke-width="0.8"/>
<line x1="416.60" y1="557.50" x2="416.60" y2="566.40" stroke="#333" stroke-width="0.7"/>
<polygon points="415.30,566.00 417.90,566.00 416.60,568.60" fill="#333" stroke="#333" stroke-width="0.3" stroke-linejoin="round"/>
<rect x="400.00" y="568.60" width="33.90" height="23.40" rx="6" ry="6" fill="white" stroke="#333" stroke-width="0.9"/>
<line x1="406.30" y1="574.80" x2="406.30" y2="586.30" stroke="#777" stroke-width="0.5"/>
<line x1="406.30" y1="574.80" x2="416.60" y2="586.30" stroke="#111" stroke-width="0.6"/>
<line x1="406.30" y1="574.80" x2="426.50" y2="586.30" stroke="#111" stroke-width="0.6"/>
<line x1="416.60" y1="574.80" x2="406.30" y2="586.30" stroke="#111" stroke-width="0.6"/>
<line x1="416.60" y1="574.80" x2="416.60" y2="586.30" stroke="#777" stroke-width="0.5"/>
<line x1="416.60" y1="574.80" x2="426.50" y2="586.30" stroke="#111" stroke-width="0.6"/>
<line x1="426.50" y1="574.80" x2="406.30" y2="586.30" stroke="#111" stroke-width="0.6"/>
<line x1="426.50" y1="574.80" x2="416.60" y2="586.30" stroke="#111" stroke-width="0.6"/>
<line x1="426.50" y1="574.80" x2="426.50" y2="586.30" stroke="#777" stroke-width="0.5"/>
<circle cx="406.30" cy="574.80" r="2.40" fill="white" stroke="#111" stroke-width="0.7"/>
<circle cx="416.60" cy="574.80" r="2.40" fill="white" stroke="#111" stroke-width="0.7"/>
<circle cx="426.50" cy="574.80" r="2.40" fill="white" stroke="#111" stroke-width="0.7"/>
<circle cx="406.30" cy="586.30" r="2.40" fill="white" stroke="#111" stroke-width="0.7"/>
<circle cx="416.60" cy="586.30" r="2.40" fill="white" stroke="#111" stroke-width="0.7"/>
<circle cx="426.50" cy="586.30" r="2.40" fill="white" stroke="#111" stroke-width="0.7"/>
<text x="353.70" y="581.90" font-size="9.3" fill="#141414" stroke="#141414" stroke-width="0.12">MegaDNA</text>
<line x1="402.80" y1="591.80" x2="391.30" y2="601.90" stroke="#1a1a1a" stroke-width="0.95" stroke-dasharray="2.6,1.7"/>
<line x1="432.70" y1="591.80" x2="444.20" y2="601.90" stroke="#1a1a1a" stroke-width="0.95" stroke-dasharray="2.6,1.7"/>
<rect x="390.90" y="603.10" width="51.00" height="3.00" fill="#B5D5F0" stroke="#333" stroke-width="0.6"/>
<rect x="394.80" y="606.10" width="51.30" height="2.90" fill="#B5D5F0" stroke="#333" stroke-width="0.6"/>
<rect x="399.40" y="609.00" width="51.30" height="3.30" fill="#B5D5F0" stroke="#333" stroke-width="0.6"/>
<text x="335.30" y="608.40" font-size="9.3" fill="#141414" stroke="#141414" stroke-width="0.12">Embeddings</text>
<text x="484.30" y="497.10" font-size="11" font-weight="bold" fill="#111" stroke="#111" stroke-width="0.12">k</text>
<rect x="497.10" y="495.80" width="14.00" height="6.00" fill="#8DB5DB" stroke="none" stroke-width="0.8"/>
<text x="511.90" y="501.70" font-size="9.3" fill="#141414" stroke="#141414" stroke-width="0.12">Virus</text>
<rect x="540.70" y="495.80" width="14.00" height="6.00" fill="#F9BB88" stroke="none" stroke-width="0.8"/>
<text x="556.20" y="501.70" font-size="9.3" fill="#141414" stroke="#141414" stroke-width="0.12">Archaea</text>
<rect x="596.10" y="495.80" width="14.00" height="6.00" fill="#93CC93" stroke="none" stroke-width="0.8"/>
<text x="612.10" y="501.70" font-size="9.3" fill="#141414" stroke="#141414" stroke-width="0.12">Bacteria</text>
<path d="M564.6 570.8h.3M580.1 542.1h.3M613.9 561.9h.3M566.5 566.1h.3M614.7 560.1h.3M617.3 552.5h.3M611.6 561.2h.3M562.6 568.0h.3M578.2 539.7h.3M572.8 545.4h.3M569.3 606.4h.3M545.0 552.9h.3M611.2 558.3h.3M556.7 568.8h.3M547.3 552.4h.3M565.7 568.5h.3M612.1 553.1h.3M575.0 544.8h.3M603.5 554.7h.3M577.5 540.4h.3M544.0 554.2h.3M576.6 539.4h.3M615.1 556.6h.3M554.6 553.5h.3M613.3 557.1h.3M597.3 557.7h.3M604.2 559.9h.3M612.4 559.8h.3M600.4 554.7h.3M613.0 558.8h.3M572.0 548.5h.3M562.4 570.6h.3M569.4 562.3h.3M562.5 571.9h.3M573.2 545.2h.3M602.3 558.5h.3M614.9 562.5h.3M613.0 557.2h.3M605.0 558.0h.3M608.1 554.8h.3M563.4 565.6h.3M547.9 554.4h.3M572.6 543.0h.3M560.6 571.4h.3M618.9 554.9h.3M544.4 554.3h.3M608.7 555.2h.3M569.2 606.9h.3M616.7 560.0h.3M560.0 547.0h.3M547.5 553.5h.3M611.3 559.8h.3M571.9 566.0h.3M572.6 565.4h.3M582.2 534.6h.3M546.4 555.5h.3M557.2 571.3h.3M609.5 555.0h.3M559.8 566.0h.3M612.1 561.9h.3M606.3 552.8h.3M548.0 550.6h.3M557.6 550.0h.3M566.3 607.4h.3M571.2 565.9h.3M559.0 569.5h.3M619.6 554.5h.3M544.3 551.8h.3M545.7 559.0h.3M621.1 559.1h.3M573.2 561.2h.3M617.4 559.9h.3M613.5 556.7h.3M614.6 556.9h.3M573.8 544.3h.3M563.7 570.2h.3M562.3 569.6h.3M556.6 574.0h.3M552.9 550.5h.3M622.0 561.4h.3M598.3 552.9h.3M579.1 543.8h.3M608.8 556.3h.3M567.7 606.6h.3M577.7 537.6h.3M599.5 557.7h.3M603.1 554.9h.3M600.6 555.3h.3M555.9 548.5h.3M545.5 549.9h.3M575.2 542.2h.3M570.7 604.2h.3M547.5 557.4h.3M618.7 558.9h.3M576.3 539.5h.3M545.9 553.6h.3M575.8 538.9h.3M598.2 556.7h.3M618.3 561.4h.3M618.2 558.8h.3M546.8 557.4h.3M571.3 565.6h.3M616.8 555.2h.3M575.3 547.0h.3M570.6 547.3h.3M576.4 541.0h.3M611.6 560.3h.3M572.0 562.0h.3M559.5 570.4h.3M558.6 551.1h.3M567.1 564.7h.3M603.9 558.0h.3M608.3 560.4h.3M611.4 560.6h.3M571.2 567.9h.3M564.6 608.2h.3M570.1 561.7h.3M558.2 547.4h.3M577.7 542.7h.3M605.4 557.5h.3M621.2 555.5h.3M614.3 559.5h.3M568.6 602.0h.3M583.2 535.3h.3M632.2 554.3h.3M567.8 565.9h.3M545.0 558.9h.3M565.4 608.5h.3M613.6 558.5h.3M567.1 569.0h.3M570.3 603.4h.3M614.2 558.4h.3M565.9 605.9h.3M616.5 556.0h.3M568.4 568.2h.3M566.3 566.9h.3M598.7 554.4h.3M608.2 557.5h.3M567.6 603.9h.3M557.8 547.6h.3M546.8 537.1h.3M578.6 543.3h.3M604.1 558.7h.3M547.0 553.7h.3M562.2 568.7h.3M562.2 571.6h.3M575.1 547.3h.3M572.0 548.8h.3M557.0 569.3h.3M561.5 568.2h.3M601.1 555.1h.3M549.1 551.9h.3M550.0 554.5h.3M547.8 554.7h.3M566.9 563.9h.3M578.8 545.1h.3M545.2 556.7h.3M566.0 607.2h.3M609.7 556.9h.3M561.5 566.8h.3M611.8 559.9h.3M616.6 560.5h.3M545.1 558.2h.3M614.7 558.5h.3M574.2 563.5h.3M559.5 569.7h.3M545.1 552.2h.3M601.4 560.1h.3M566.6 568.4h.3M577.6 547.0h.3M572.6 601.7h.3M609.4 555.5h.3M570.7 607.2h.3M602.5 551.4h.3M559.5 570.1h.3M577.0 543.1h.3M570.0 604.1h.3M569.2 606.4h.3M610.1 560.6h.3M611.4 556.6h.3M563.3 571.6h.3M572.9 546.8h.3M544.9 554.0h.3M567.8 603.3h.3M582.6 535.0h.3M569.3 568.5h.3M548.2 556.9h.3M617.6 560.0h.3M545.4 561.6h.3M542.9 554.7h.3M600.5 556.5h.3M570.8 603.3h.3M569.4 569.7h.3M566.7 567.8h.3M607.3 558.3h.3M554.1 550.3h.3M568.3 562.9h.3M614.3 556.9h.3M600.8 579.5h.3M609.6 555.4h.3M556.2 569.0h.3M612.8 560.9h.3M613.1 562.1h.3M548.1 552.1h.3M578.1 539.6h.3M558.8 571.7h.3M613.9 559.2h.3M547.6 552.7h.3M613.5 554.4h.3M612.5 558.4h.3M542.7 554.0h.3M578.2 543.4h.3M602.6 557.7h.3M546.6 551.0h.3M611.1 557.3h.3M571.8 600.7h.3M572.7 565.4h.3M610.8 555.2h.3M543.5 560.8h.3M546.8 554.7h.3M545.3 556.1h.3M612.6 554.0h.3M608.6 561.0h.3M575.5 545.7h.3M560.2 569.6h.3M565.3 609.5h.3M621.7 558.3h.3M558.6 567.9h.3M550.6 549.0h.3M572.4 543.3h.3M553.5 553.4h.3M601.6 555.2h.3M618.8 558.0h.3M600.6 553.3h.3M564.1 569.4h.3M555.4 551.2h.3M545.5 554.9h.3M576.3 542.8h.3M566.8 569.9h.3M575.7 540.3h.3M577.1 543.7h.3M612.1 558.9h.3M549.0 552.1h.3M610.2 557.4h.3M614.6 560.4h.3M544.6 550.5h.3M594.0 551.6h.3M553.1 550.4h.3M564.7 564.5h.3M570.3 562.2h.3M567.7 607.2h.3M602.6 559.9h.3M610.7 554.8h.3M616.6 560.7h.3M577.9 545.3h.3M557.5 568.1h.3M547.3 551.5h.3M571.2 602.8h.3M617.9 555.1h.3M549.4 549.0h.3M606.1 555.6h.3M572.0 566.1h.3M624.3 560.1h.3M570.6 562.9h.3M561.1 567.4h.3M603.2 554.4h.3M602.9 556.7h.3M551.7 551.4h.3M565.9 567.6h.3M570.2 601.8h.3M571.5 566.3h.3M557.6 570.4h.3M611.8 558.7h.3M579.9 543.5h.3M565.8 608.8h.3M544.6 557.5h.3M605.6 554.3h.3M570.7 564.7h.3M576.8 547.2h.3M570.8 547.3h.3M614.6 562.6h.3M552.0 553.8h.3M576.6 540.6h.3M610.4 562.9h.3M598.7 553.3h.3M615.4 559.2h.3M571.1 563.1h.3M573.7 542.1h.3M567.9 605.9h.3M612.2 557.4h.3M616.4 561.6h.3M573.7 542.0h.3M576.3 544.5h.3M566.0 564.6h.3M546.8 555.7h.3M611.2 561.8h.3M612.8 559.6h.3M551.6 553.9h.3M547.8 553.8h.3M577.1 545.0h.3M563.0 567.3h.3M605.5 556.3h.3M575.0 544.4h.3M614.2 560.3h.3M543.6 556.2h.3M543.3 559.1h.3M569.5 549.1h.3" stroke="#1F77B4" stroke-width="0.75" stroke-linecap="round" fill="none"/>
<path d="M550.3 564.2h.3M572.8 557.5h.3M628.7 572.5h.3M591.0 572.7h.3M633.2 579.2h.3M550.0 574.0h.3M628.0 578.2h.3M577.7 556.9h.3M581.0 570.2h.3M621.4 574.4h.3M554.1 576.6h.3M575.1 561.5h.3M616.1 572.3h.3M612.5 569.9h.3M580.9 567.1h.3M573.2 580.2h.3M633.5 576.9h.3M579.7 559.8h.3M587.6 572.6h.3M625.0 570.9h.3M591.0 571.4h.3M595.2 569.2h.3M577.8 562.5h.3M624.4 573.1h.3M564.5 580.6h.3M630.9 573.5h.3M588.6 570.2h.3M567.3 580.6h.3M568.1 581.3h.3M574.2 561.3h.3M630.2 573.1h.3M626.0 572.2h.3M628.3 570.6h.3M565.7 579.8h.3M578.0 562.6h.3M627.4 576.4h.3M574.5 560.2h.3M624.8 569.8h.3M631.5 575.3h.3M619.1 571.9h.3M580.5 560.7h.3M631.8 577.9h.3M554.5 563.0h.3M581.9 569.1h.3M577.1 561.3h.3M583.0 573.5h.3M567.2 580.9h.3M627.5 574.1h.3M567.1 580.8h.3M581.6 565.9h.3M583.8 566.8h.3M623.3 576.3h.3M565.6 580.4h.3M584.3 571.1h.3M547.5 564.3h.3M622.4 573.4h.3M626.9 577.2h.3M628.3 576.4h.3M635.2 575.8h.3M574.2 558.6h.3M587.7 574.9h.3M581.8 571.2h.3M579.6 562.0h.3M628.4 571.5h.3M575.1 581.0h.3M548.2 564.3h.3M569.4 580.9h.3M582.5 559.0h.3M629.9 578.2h.3M549.0 563.6h.3M554.2 576.4h.3M591.1 569.6h.3M620.1 575.6h.3M589.6 570.7h.3M566.5 579.2h.3M580.9 567.7h.3M626.3 571.6h.3M552.3 563.7h.3M632.7 573.4h.3M610.7 570.1h.3M625.3 576.3h.3M615.3 571.6h.3M616.9 574.0h.3M572.8 578.4h.3M626.0 574.7h.3M569.8 577.4h.3M633.2 570.9h.3M628.1 578.0h.3M554.2 562.0h.3M574.4 559.0h.3M553.7 566.9h.3M577.0 557.5h.3M584.2 564.2h.3M574.8 560.7h.3M578.4 557.5h.3M618.6 572.9h.3M567.6 578.4h.3M563.7 581.2h.3M580.2 565.4h.3M592.5 569.8h.3M566.3 578.8h.3M625.4 574.5h.3M580.6 569.8h.3M634.2 572.8h.3M564.1 580.6h.3M576.3 576.4h.3M629.0 571.4h.3M623.6 576.9h.3M579.4 566.5h.3M572.3 580.7h.3M614.9 571.8h.3M593.7 572.3h.3M578.7 572.4h.3M633.2 575.8h.3M550.6 565.2h.3M587.2 564.4h.3M580.8 568.9h.3M550.4 562.6h.3M587.1 567.2h.3M570.7 577.4h.3M624.1 574.5h.3M585.7 567.3h.3M630.3 573.2h.3M575.7 560.1h.3M569.3 581.9h.3M578.7 564.0h.3M623.8 574.8h.3M569.6 578.1h.3M569.2 577.7h.3M588.1 573.3h.3M580.2 561.5h.3M630.8 571.6h.3M628.6 577.8h.3M584.7 573.1h.3M553.9 564.7h.3M586.5 565.5h.3M585.2 570.8h.3M628.1 571.3h.3M578.9 556.3h.3M623.1 577.1h.3M575.2 557.3h.3M622.3 573.7h.3M626.4 574.0h.3M630.2 573.6h.3M585.6 567.1h.3M551.7 565.3h.3M622.3 572.6h.3M632.1 576.5h.3M566.3 582.2h.3M628.7 575.2h.3M584.8 569.6h.3M631.5 572.6h.3M574.2 562.8h.3M626.1 576.5h.3M621.8 574.2h.3M629.6 572.4h.3M624.4 579.6h.3M574.0 577.2h.3M567.2 581.0h.3M572.5 578.0h.3M574.9 560.8h.3M548.7 577.3h.3M627.4 576.8h.3M628.7 572.4h.3M553.7 577.7h.3M626.1 573.7h.3M613.5 571.0h.3M628.4 574.0h.3M610.0 570.5h.3M571.8 579.1h.3M624.5 578.7h.3M585.8 563.5h.3M625.1 569.2h.3M594.4 570.9h.3M591.6 569.5h.3M582.6 571.9h.3M580.5 570.3h.3M570.8 577.2h.3M588.5 567.0h.3M579.1 561.8h.3M632.5 575.5h.3M586.7 568.6h.3M587.6 575.4h.3M584.5 570.2h.3M622.1 571.4h.3M572.0 576.2h.3M615.0 569.8h.3M567.7 581.5h.3M585.0 567.2h.3M614.7 570.2h.3M620.6 572.8h.3M577.8 559.0h.3M622.0 571.8h.3M548.7 565.9h.3M617.6 572.1h.3M592.3 567.8h.3M583.8 559.9h.3M624.0 576.4h.3M629.2 571.1h.3M576.5 559.5h.3M548.3 564.1h.3M592.9 570.3h.3M623.5 577.3h.3M583.8 573.6h.3M576.7 578.2h.3M574.3 576.5h.3M622.6 571.1h.3M576.2 577.8h.3M552.9 563.6h.3M571.7 581.9h.3M616.3 571.9h.3M629.9 574.6h.3M574.1 559.7h.3M553.2 561.6h.3M631.0 571.2h.3M632.3 575.2h.3M586.5 575.6h.3M574.5 565.2h.3M552.9 565.8h.3M575.7 559.1h.3M590.9 573.8h.3M577.7 561.8h.3M631.2 575.5h.3M628.1 580.7h.3M576.8 558.9h.3M586.1 574.5h.3M554.7 576.4h.3M633.1 575.6h.3M633.9 577.0h.3M581.9 567.3h.3M621.4 577.0h.3M547.6 564.6h.3M617.2 573.0h.3M571.9 558.6h.3M621.5 574.8h.3M556.4 577.5h.3M576.0 577.1h.3M550.0 577.2h.3M577.0 561.6h.3M584.5 575.0h.3M581.1 570.6h.3M580.1 570.2h.3M584.7 570.1h.3M625.3 573.7h.3M632.6 576.5h.3M583.5 570.0h.3M629.4 579.3h.3M628.0 575.4h.3M557.2 577.7h.3M628.1 569.9h.3M566.5 580.3h.3M629.7 576.7h.3M569.7 578.5h.3M571.6 580.8h.3M551.3 561.8h.3M549.0 565.9h.3M629.2 575.4h.3M635.5 575.8h.3M633.2 576.2h.3M629.6 570.3h.3M621.6 575.4h.3M629.1 574.6h.3M586.4 570.8h.3M551.6 577.9h.3M589.2 567.5h.3M582.5 568.0h.3M554.9 577.9h.3M590.6 572.2h.3M566.6 582.7h.3M579.4 561.1h.3M550.8 575.1h.3M594.0 571.9h.3M585.4 575.2h.3M577.1 563.5h.3M551.0 576.8h.3M590.5 567.1h.3M583.6 568.4h.3M581.9 566.8h.3M556.0 577.9h.3M627.8 573.1h.3M568.7 579.0h.3M589.2 567.5h.3M552.5 561.9h.3M548.7 563.4h.3M555.8 579.9h.3M563.5 580.9h.3M572.6 581.2h.3M593.5 568.0h.3M613.1 569.4h.3M566.2 582.2h.3M568.0 579.0h.3M549.9 564.7h.3M569.0 577.6h.3M552.8 562.0h.3M633.4 575.2h.3M629.9 574.1h.3M551.2 564.9h.3M626.3 577.8h.3M573.2 563.1h.3" stroke="#FF7F0E" stroke-width="0.75" stroke-linecap="round" fill="none"/>
<path d="M615.8 549.0h.3M586.5 538.3h.3M590.5 540.1h.3M615.7 550.5h.3M594.1 537.9h.3M614.8 547.5h.3M613.5 550.1h.3M561.1 555.8h.3M596.8 537.7h.3M599.7 535.3h.3M598.7 532.9h.3M590.1 536.3h.3M595.9 537.6h.3M624.8 548.8h.3M593.3 537.4h.3M593.1 538.3h.3M607.8 547.9h.3M594.5 531.8h.3M594.2 536.2h.3M595.7 535.2h.3M590.3 541.2h.3M620.2 546.1h.3M606.3 549.2h.3M618.9 545.7h.3M618.3 552.0h.3M594.7 530.9h.3M546.9 570.4h.3M595.0 532.7h.3M552.4 559.4h.3M591.7 537.9h.3M622.6 546.6h.3M556.0 559.4h.3M547.5 569.9h.3M614.6 544.4h.3M565.0 565.0h.3M628.4 565.1h.3M553.1 554.0h.3M563.4 552.4h.3M613.5 549.7h.3M615.7 545.9h.3M545.6 569.2h.3M563.5 564.9h.3M600.4 534.3h.3M578.0 552.8h.3M593.4 535.6h.3M585.8 532.5h.3M597.5 534.9h.3M630.1 565.1h.3M587.0 534.5h.3M550.8 555.2h.3M551.9 560.8h.3M612.5 548.4h.3M590.2 535.2h.3M626.8 549.8h.3M614.9 550.3h.3M552.2 557.8h.3M559.2 555.9h.3M546.4 569.8h.3M557.4 561.5h.3M596.1 531.5h.3M550.5 558.3h.3M595.1 536.6h.3M617.9 548.0h.3M600.4 537.2h.3M575.3 551.4h.3M591.3 532.9h.3M600.0 538.2h.3M586.4 538.3h.3M629.4 562.5h.3M561.1 554.2h.3M560.8 559.4h.3M599.8 534.2h.3M548.7 559.3h.3M613.3 550.4h.3M563.4 561.5h.3M586.7 535.8h.3M591.6 539.1h.3M611.1 549.0h.3M548.5 574.0h.3M622.4 543.8h.3M615.7 544.4h.3M547.0 568.2h.3M548.4 573.8h.3M597.3 531.2h.3M593.9 541.6h.3M554.2 553.8h.3M557.8 557.2h.3M546.9 575.4h.3M558.2 562.9h.3M549.5 556.9h.3M551.1 554.9h.3M558.8 558.6h.3M557.8 559.9h.3M616.4 547.7h.3M612.7 549.2h.3M561.2 555.5h.3M594.2 534.2h.3M608.0 551.5h.3M621.4 546.7h.3M624.1 547.2h.3M563.5 558.6h.3M588.0 534.6h.3M550.1 570.9h.3M588.8 536.9h.3M630.2 561.0h.3M593.3 534.5h.3M552.2 563.6h.3M565.5 562.3h.3M616.2 551.0h.3M588.9 535.1h.3M621.7 547.9h.3M593.1 531.0h.3M587.4 533.8h.3M561.2 564.8h.3M558.2 561.3h.3M596.6 547.2h.3M559.8 551.3h.3M603.2 546.8h.3M554.2 561.2h.3M589.8 532.1h.3M598.4 535.2h.3M590.2 538.5h.3M610.3 552.2h.3M594.1 536.6h.3M601.6 547.6h.3M591.0 532.5h.3M595.8 529.8h.3M558.6 561.5h.3M555.5 555.0h.3M553.4 565.2h.3M607.3 548.9h.3M623.7 545.4h.3M597.3 537.7h.3M593.2 531.0h.3M549.7 574.2h.3M552.7 556.1h.3M610.3 548.2h.3M574.6 555.4h.3M597.9 534.8h.3M565.4 556.3h.3M623.5 550.3h.3M597.3 533.0h.3M556.5 557.5h.3M555.1 548.1h.3M586.7 534.2h.3M593.2 534.4h.3M591.8 532.7h.3M559.2 555.6h.3M596.5 547.6h.3M546.4 576.0h.3M596.7 532.2h.3M566.5 556.7h.3M595.6 526.6h.3M592.7 532.6h.3M554.1 561.6h.3M629.6 563.8h.3M557.0 557.6h.3M554.3 564.5h.3M563.2 551.8h.3M554.4 553.9h.3M544.8 571.3h.3M618.4 548.2h.3M555.5 565.4h.3M609.4 549.9h.3M586.9 534.0h.3M595.0 533.2h.3M603.5 546.6h.3M553.3 553.1h.3M601.4 548.2h.3M565.6 561.5h.3M625.1 547.8h.3M613.9 547.7h.3M630.0 562.8h.3M585.2 539.3h.3M596.9 535.3h.3M553.2 561.6h.3M593.6 537.6h.3M595.7 536.1h.3M591.9 533.3h.3M557.8 566.7h.3M627.0 545.9h.3M555.1 554.7h.3M551.8 559.4h.3M630.6 565.5h.3M553.1 557.2h.3M556.1 557.1h.3M597.7 550.7h.3M620.9 548.3h.3M547.2 570.7h.3M593.4 528.4h.3M587.5 534.5h.3M597.1 549.8h.3M553.5 560.1h.3M566.6 558.3h.3M567.9 555.5h.3M627.0 562.4h.3M556.7 557.2h.3M622.5 549.6h.3M545.4 572.3h.3M595.7 547.9h.3M617.0 549.4h.3M587.7 535.4h.3M612.6 547.0h.3M593.0 538.6h.3M629.1 561.1h.3M606.6 549.0h.3M590.8 531.8h.3M599.5 534.8h.3M599.3 533.5h.3M599.1 546.4h.3M621.5 545.8h.3M556.8 566.5h.3M597.1 535.6h.3M549.0 572.7h.3M555.2 554.5h.3M563.2 560.3h.3M589.6 533.2h.3M545.8 571.0h.3M563.6 556.2h.3M557.1 565.1h.3M609.7 548.8h.3M562.5 555.0h.3M552.0 558.5h.3M547.4 570.3h.3M613.4 547.2h.3M614.4 548.9h.3M555.0 562.9h.3M564.0 551.0h.3M565.2 555.9h.3M589.1 532.2h.3M550.7 554.5h.3M563.0 563.0h.3M595.7 531.5h.3M555.4 556.2h.3M597.2 530.8h.3M614.7 549.5h.3M598.7 535.5h.3M588.6 540.5h.3M595.6 537.7h.3M612.0 548.7h.3M565.8 559.4h.3M566.6 561.2h.3M557.3 561.9h.3M548.9 568.2h.3M615.0 550.1h.3M593.2 539.0h.3M565.7 562.1h.3M560.8 562.5h.3M592.3 539.2h.3M596.6 531.7h.3M563.9 564.5h.3M548.9 571.1h.3M606.9 548.8h.3M561.4 560.2h.3M552.2 554.0h.3M554.9 555.9h.3M621.5 545.1h.3M629.4 562.1h.3M613.5 546.9h.3M602.9 533.1h.3M542.7 568.5h.3M599.9 533.9h.3M562.1 558.6h.3M604.4 547.7h.3M619.4 547.3h.3M632.1 566.0h.3M588.9 539.2h.3M555.6 561.1h.3M563.9 556.0h.3M597.1 547.6h.3M558.8 560.7h.3M628.8 562.4h.3M549.5 574.8h.3M610.7 546.8h.3M562.2 554.9h.3M556.9 559.9h.3M545.9 572.3h.3M615.2 548.0h.3M562.4 564.2h.3M586.5 539.2h.3M555.6 562.4h.3M620.1 550.4h.3M589.6 536.4h.3M589.5 535.6h.3M597.4 533.0h.3M560.2 561.7h.3M559.9 562.6h.3M580.1 552.0h.3M594.1 533.1h.3M594.7 529.9h.3M587.4 534.2h.3M556.1 562.0h.3M587.2 534.7h.3M588.1 533.2h.3M552.2 569.6h.3M559.8 553.6h.3M548.9 562.6h.3M612.2 549.7h.3M567.2 557.9h.3M544.6 570.8h.3M596.3 534.6h.3M559.0 559.5h.3M548.8 562.2h.3M598.6 538.3h.3M555.7 561.1h.3M553.5 554.6h.3M615.9 548.5h.3M607.8 548.3h.3M595.6 530.8h.3M591.4 538.5h.3M593.4 534.4h.3M564.6 557.8h.3M567.4 562.3h.3M565.2 564.4h.3M620.7 547.6h.3M607.1 550.9h.3M561.2 556.5h.3M574.0 551.5h.3M558.3 559.0h.3M596.3 531.3h.3M547.8 568.8h.3M561.7 564.0h.3M561.6 552.8h.3M547.6 570.7h.3M622.6 548.4h.3M552.0 573.9h.3M589.2 533.3h.3M619.2 551.5h.3M554.6 562.5h.3M545.7 573.8h.3M595.0 534.4h.3M589.7 538.8h.3M598.9 550.6h.3M590.7 540.1h.3M624.3 548.1h.3M626.1 545.3h.3M599.2 536.3h.3M604.7 550.7h.3M561.3 564.3h.3M622.0 545.9h.3M586.8 537.3h.3M595.1 536.2h.3M559.0 564.5h.3M559.4 561.0h.3M596.1 535.5h.3M590.8 541.0h.3M545.3 568.7h.3M611.0 547.6h.3M624.7 549.0h.3M563.8 556.7h.3M583.5 535.4h.3M597.9 540.0h.3M557.1 553.4h.3M556.5 552.3h.3M587.7 530.2h.3M601.5 568.0h.3M632.0 566.2h.3M555.5 555.0h.3M553.5 562.4h.3M598.0 532.5h.3M619.3 548.8h.3M550.1 562.1h.3M601.5 537.5h.3M592.6 532.9h.3M561.4 563.0h.3M588.6 534.4h.3M567.6 562.0h.3M565.4 561.8h.3M625.5 545.8h.3M568.1 556.6h.3M549.0 560.5h.3M596.5 535.6h.3M548.9 571.7h.3M601.4 548.2h.3M560.9 560.3h.3M564.4 550.9h.3M569.6 558.2h.3M589.8 529.8h.3M548.6 560.6h.3M550.8 559.0h.3M550.7 573.4h.3M551.5 570.4h.3M563.9 557.9h.3M612.7 550.2h.3M614.5 544.8h.3M589.4 529.5h.3M586.3 541.4h.3M566.1 564.2h.3M598.2 538.8h.3M559.9 561.4h.3M563.2 551.8h.3M563.2 559.9h.3M588.2 535.5h.3M560.4 561.3h.3M618.9 552.1h.3M612.0 550.7h.3M590.6 535.8h.3M569.2 558.6h.3M563.9 557.0h.3" stroke="#2CA02C" stroke-width="0.75" stroke-linecap="round" fill="none"/>
<path d="M619.2 560.6h.3M567.1 605.2h.3M567.3 562.4h.3M572.4 547.2h.3M545.6 553.4h.3M570.0 566.8h.3M609.1 556.1h.3M571.5 548.3h.3M564.7 568.2h.3M611.2 561.2h.3M568.3 567.0h.3M612.1 556.5h.3M614.2 561.2h.3M553.4 549.2h.3M568.0 608.0h.3M576.5 539.9h.3M558.0 548.5h.3M569.2 550.1h.3M599.6 557.5h.3M565.1 562.9h.3M584.3 532.6h.3M561.0 574.0h.3M616.8 556.8h.3M612.1 557.9h.3M579.5 538.0h.3M599.6 555.8h.3M546.9 552.4h.3M566.5 568.5h.3M583.7 535.1h.3M603.0 553.9h.3M611.0 558.0h.3M562.2 566.9h.3M546.2 557.1h.3M609.1 559.4h.3M608.8 557.8h.3M615.0 558.6h.3M554.9 548.9h.3M577.8 545.2h.3M599.9 556.7h.3M567.1 604.4h.3M549.2 551.0h.3M566.9 569.2h.3M573.2 566.1h.3M602.4 553.2h.3M618.0 555.4h.3M567.2 607.9h.3M611.1 554.3h.3M573.1 566.6h.3M547.5 553.4h.3M601.8 552.8h.3M579.9 536.3h.3M608.9 551.0h.3M616.5 560.3h.3M616.8 535.8h.3M575.4 548.0h.3M571.3 560.7h.3M603.8 553.3h.3M576.3 539.2h.3M558.8 569.8h.3M568.0 605.8h.3M562.3 569.7h.3M568.3 603.8h.3M559.7 572.8h.3M558.5 550.8h.3M616.5 560.6h.3M550.4 554.5h.3M546.9 550.5h.3M557.2 550.6h.3M543.6 557.0h.3M609.7 560.5h.3M546.5 549.6h.3M611.7 558.6h.3M616.7 557.9h.3M611.3 559.4h.3M545.5 556.3h.3M562.6 570.4h.3M612.8 558.9h.3M603.5 558.2h.3M615.6 562.1h.3M616.7 562.0h.3M558.2 573.7h.3M579.7 536.9h.3M602.2 551.8h.3M610.0 558.8h.3M569.4 608.3h.3M609.9 556.6h.3M615.5 559.8h.3M601.4 554.2h.3M565.6 566.7h.3M603.8 555.1h.3M574.9 563.7h.3M607.0 554.4h.3M567.8 608.9h.3M567.1 605.6h.3M565.6 565.0h.3M544.1 554.8h.3M565.8 567.2h.3M574.8 547.8h.3M571.6 562.5h.3M572.6 542.7h.3M561.2 568.9h.3M605.2 551.4h.3M592.6 555.3h.3M585.3 533.1h.3M558.9 568.1h.3M559.2 567.1h.3M619.0 562.1h.3M607.9 552.2h.3M602.3 556.6h.3M609.8 560.6h.3M566.8 606.6h.3M613.8 554.4h.3M551.1 551.5h.3M568.0 604.8h.3M577.7 542.5h.3M603.6 557.1h.3M616.6 559.9h.3M570.0 565.3h.3M570.3 562.3h.3M553.8 549.6h.3M611.9 559.8h.3M612.2 558.2h.3M569.4 602.6h.3M572.1 546.7h.3M544.9 552.7h.3M546.3 553.4h.3M572.0 542.9h.3M613.9 557.7h.3M557.2 570.0h.3M620.2 559.8h.3M564.5 608.7h.3M565.2 568.0h.3M566.6 567.4h.3M609.9 560.9h.3M567.6 603.8h.3M578.5 539.6h.3M581.5 536.0h.3M545.2 561.3h.3M582.0 534.6h.3M569.1 607.4h.3M574.6 563.7h.3M601.2 557.3h.3M546.5 554.7h.3M557.6 573.4h.3M574.0 543.4h.3M572.3 565.1h.3M616.2 554.7h.3M558.4 552.1h.3M602.0 556.2h.3M616.0 560.7h.3M615.8 560.1h.3M610.4 558.2h.3M570.6 563.5h.3M544.9 554.1h.3M563.3 569.4h.3M602.3 558.2h.3M571.0 563.4h.3M559.3 568.5h.3M573.0 549.1h.3M611.4 560.9h.3M607.0 558.0h.3M603.1 560.3h.3M616.5 561.4h.3M606.5 555.0h.3M615.3 560.3h.3M616.2 557.4h.3M557.8 569.7h.3M570.3 565.9h.3M562.3 570.2h.3M574.1 601.4h.3M568.5 569.0h.3M570.2 566.4h.3M575.2 548.6h.3M603.3 552.1h.3M577.7 543.3h.3M549.7 549.0h.3M614.3 556.9h.3M550.9 551.7h.3M608.6 557.1h.3M617.7 558.4h.3M600.0 554.2h.3M613.5 559.8h.3M572.6 545.3h.3M549.9 552.5h.3M552.6 552.8h.3M576.0 541.1h.3M616.4 558.8h.3M610.9 555.6h.3M565.3 565.7h.3M621.9 561.9h.3M601.2 555.1h.3M613.4 552.9h.3M578.7 537.2h.3M553.6 551.2h.3M568.7 602.7h.3M558.2 572.7h.3M569.2 567.7h.3M611.5 561.4h.3M570.4 602.4h.3M547.3 558.6h.3M610.4 552.9h.3M566.7 605.0h.3M613.0 554.8h.3M570.0 603.5h.3M569.4 563.3h.3M564.5 567.6h.3M610.6 558.8h.3M568.9 608.9h.3M595.7 554.6h.3M568.0 606.1h.3M598.1 556.4h.3M545.9 554.0h.3M615.4 561.6h.3M612.4 555.1h.3M610.5 559.2h.3M612.6 563.1h.3M609.4 560.8h.3M544.5 551.6h.3M596.8 552.4h.3M610.4 560.1h.3M547.7 551.4h.3M545.9 552.2h.3M566.1 605.1h.3M545.6 556.0h.3M603.8 558.6h.3M612.5 555.7h.3M565.3 607.8h.3M550.6 553.2h.3M574.8 542.5h.3M568.8 570.1h.3M566.1 565.6h.3M572.2 601.4h.3M576.9 544.1h.3M546.9 557.1h.3M598.7 555.1h.3M550.7 553.4h.3M551.0 553.9h.3M554.5 573.7h.3M572.6 545.8h.3M554.3 552.4h.3M568.1 566.5h.3M603.5 558.2h.3M579.7 537.9h.3M548.3 552.0h.3M545.8 557.8h.3M565.3 565.5h.3M577.5 542.1h.3M582.4 584.7h.3M620.0 556.8h.3M562.2 567.0h.3M568.4 567.7h.3M605.6 559.4h.3M560.7 567.6h.3M571.8 543.9h.3M552.2 548.7h.3M612.7 558.2h.3M565.6 563.4h.3M555.1 572.4h.3M546.0 551.9h.3M566.5 569.2h.3M611.2 558.8h.3M567.9 603.1h.3M565.5 608.9h.3M560.2 568.8h.3M574.7 563.0h.3M552.2 553.1h.3M599.5 555.7h.3M595.6 555.2h.3M608.7 555.6h.3M576.8 540.9h.3M565.0 569.7h.3M564.9 570.5h.3M614.5 560.8h.3M609.5 559.5h.3M573.8 513.4h.3M612.6 558.4h.3M546.0 554.7h.3M546.6 558.2h.3M574.8 541.7h.3M547.5 538.0h.3M575.1 547.2h.3M568.4 566.8h.3M556.6 573.5h.3M610.0 556.4h.3M561.8 568.9h.3M552.3 554.6h.3M609.9 562.3h.3M546.5 558.3h.3M612.8 562.2h.3M563.4 565.3h.3M612.5 559.8h.3M553.3 552.3h.3M570.7 547.3h.3M569.8 569.1h.3M620.7 560.6h.3M566.5 606.6h.3M617.6 559.2h.3M585.0 534.0h.3M600.5 552.7h.3M570.3 602.2h.3M564.6 565.5h.3M574.2 548.3h.3M584.9 532.7h.3M565.8 568.8h.3M574.3 541.5h.3M574.4 541.4h.3M610.3 558.6h.3" stroke="#1F77B4" stroke-width="0.75" stroke-linecap="round" fill="none"/>
<path d="M621.4 575.9h.3M623.8 574.6h.3M632.3 576.1h.3M578.8 576.9h.3M592.1 571.6h.3M587.0 566.9h.3M632.4 575.7h.3M621.1 572.6h.3M594.7 571.5h.3M579.6 563.2h.3M626.5 577.8h.3M566.3 581.2h.3M617.6 573.7h.3M626.5 574.0h.3M624.3 576.0h.3M620.6 574.0h.3M631.3 572.4h.3M617.4 576.0h.3M628.4 577.6h.3M617.7 571.3h.3M627.1 577.1h.3M616.8 570.9h.3M618.2 572.6h.3M570.0 580.3h.3M626.8 571.2h.3M571.6 577.6h.3M629.2 574.6h.3M579.3 566.7h.3M578.8 562.5h.3M563.7 583.1h.3M577.4 561.1h.3M633.7 575.0h.3M588.6 565.0h.3M580.5 571.0h.3M583.6 564.9h.3M633.1 578.1h.3M633.9 571.3h.3M568.4 581.4h.3M589.4 569.2h.3M566.6 582.2h.3M590.8 570.8h.3M592.9 571.0h.3M578.6 569.3h.3M569.8 580.1h.3M621.1 573.4h.3M577.2 557.9h.3M575.4 578.5h.3M628.6 570.0h.3M587.3 574.1h.3M617.6 573.6h.3M588.0 572.9h.3M620.4 572.7h.3M626.3 575.8h.3M580.4 569.5h.3M626.8 572.9h.3M594.3 571.3h.3M591.9 570.5h.3M548.0 563.5h.3M633.0 578.9h.3M621.8 576.1h.3M631.9 570.1h.3M574.2 577.1h.3M570.2 581.4h.3M592.4 567.9h.3M574.3 563.0h.3M547.3 562.2h.3M551.3 567.4h.3M628.0 574.9h.3M578.5 568.3h.3M584.3 569.9h.3M622.4 574.5h.3M579.8 569.5h.3M631.9 577.1h.3M593.5 568.0h.3M582.5 567.9h.3M625.0 578.3h.3M628.8 576.6h.3M576.6 580.1h.3M580.5 571.0h.3M550.5 577.1h.3M576.1 564.6h.3M625.9 576.3h.3M628.7 571.3h.3M592.7 571.5h.3M636.2 579.1h.3M628.4 574.7h.3M626.9 573.0h.3M578.3 559.7h.3M629.2 576.3h.3M551.9 577.0h.3M628.4 572.3h.3M615.8 571.5h.3M584.9 573.5h.3M548.3 565.0h.3M581.3 559.9h.3M623.4 575.7h.3M618.0 573.4h.3M624.5 576.7h.3M630.9 570.7h.3M550.4 565.6h.3M588.4 565.4h.3M569.8 576.4h.3M578.9 563.1h.3M577.5 558.1h.3M575.0 562.3h.3M591.0 566.3h.3M588.8 569.2h.3M618.2 572.0h.3M550.1 561.4h.3M631.6 574.5h.3M565.0 580.8h.3M623.0 577.9h.3M625.3 575.5h.3M621.6 577.8h.3M632.5 576.2h.3M570.3 577.5h.3M554.4 578.1h.3M625.5 576.9h.3M624.9 572.0h.3M623.2 570.9h.3M628.4 572.8h.3M591.3 574.6h.3M631.9 571.9h.3M574.9 558.9h.3M588.2 568.2h.3M582.0 568.6h.3M626.8 578.7h.3M636.9 576.0h.3M584.9 574.5h.3M546.4 564.1h.3M584.3 566.7h.3M550.2 564.0h.3M628.9 575.2h.3M584.3 573.8h.3M566.7 578.7h.3M623.8 572.4h.3M632.8 571.0h.3M583.4 566.5h.3M591.6 567.5h.3M586.5 568.5h.3M629.7 571.7h.3M549.6 566.1h.3M632.7 575.0h.3M593.6 574.7h.3M625.0 573.6h.3M568.8 577.6h.3M572.7 557.9h.3M579.3 560.7h.3M582.9 563.4h.3M589.7 564.4h.3M575.9 557.2h.3M552.5 563.3h.3M621.3 573.8h.3M578.1 556.8h.3M574.3 562.8h.3M612.5 570.6h.3M575.9 558.4h.3M625.4 574.0h.3M569.2 577.8h.3M576.4 579.3h.3M625.3 572.0h.3M591.2 575.1h.3M550.3 577.6h.3M592.9 565.8h.3M569.4 582.0h.3M587.8 564.0h.3M573.9 560.3h.3M569.3 578.3h.3M617.5 572.4h.3M624.4 575.6h.3M595.9 569.7h.3M550.6 567.2h.3M581.2 559.5h.3M592.5 570.9h.3M622.9 572.1h.3M550.8 563.8h.3M636.8 575.0h.3M551.1 566.3h.3M617.2 570.3h.3M613.8 570.1h.3M573.9 559.0h.3M588.7 571.0h.3M632.7 579.0h.3M577.3 562.4h.3M593.4 569.1h.3M616.1 570.3h.3M628.3 570.9h.3M573.0 575.3h.3M549.6 576.1h.3M552.4 564.4h.3M582.6 571.8h.3M622.0 572.0h.3M580.4 562.6h.3M618.2 575.7h.3M578.4 562.7h.3M581.2 558.9h.3M627.9 574.8h.3M567.8 579.7h.3M587.3 572.0h.3M629.2 575.7h.3M629.6 574.7h.3M582.0 568.2h.3M627.8 576.0h.3M616.7 574.8h.3M618.9 574.0h.3M620.3 578.0h.3M572.7 577.0h.3M589.3 568.0h.3M626.3 578.1h.3M619.1 572.3h.3M636.9 577.9h.3M623.9 570.9h.3M564.6 580.9h.3M585.6 567.4h.3M580.9 572.3h.3M592.4 569.5h.3M575.5 557.9h.3M621.4 574.9h.3M631.7 575.3h.3M587.3 571.2h.3M594.6 570.8h.3M534.8 540.0h.3M620.4 575.5h.3M588.7 567.0h.3M628.7 576.3h.3M560.0 526.3h.3M581.4 569.4h.3M556.8 578.9h.3M580.9 565.6h.3M626.8 568.7h.3M633.2 573.2h.3M627.0 574.0h.3M586.2 573.8h.3M622.3 575.4h.3M586.9 569.3h.3M572.8 559.5h.3M586.9 573.8h.3M554.5 563.4h.3M576.8 561.3h.3M581.1 560.6h.3M635.0 576.3h.3M621.4 577.9h.3M582.3 562.9h.3M574.3 559.9h.3M629.8 571.6h.3M588.4 568.0h.3M620.9 570.8h.3M582.4 569.7h.3M630.8 572.5h.3M553.8 565.0h.3M571.6 579.3h.3M577.3 559.3h.3M630.7 573.4h.3M583.4 570.9h.3M589.1 574.5h.3M581.1 567.8h.3M585.6 575.4h.3M580.6 558.6h.3M575.7 565.3h.3M552.8 574.0h.3M591.8 568.2h.3M579.7 571.0h.3M630.4 571.9h.3M579.0 569.6h.3M629.1 573.2h.3M628.0 571.7h.3M551.7 578.7h.3M551.1 561.4h.3M591.5 569.6h.3M548.6 562.7h.3M568.8 581.7h.3M631.7 577.5h.3M554.7 564.0h.3M576.8 564.1h.3M625.8 572.2h.3M623.4 578.4h.3M576.9 556.3h.3M575.7 562.6h.3M577.6 560.1h.3M628.7 575.3h.3M553.8 575.5h.3M592.8 566.9h.3M574.6 559.8h.3M577.6 560.1h.3M591.9 568.6h.3M582.0 570.4h.3M584.4 568.9h.3M577.7 558.9h.3M627.9 570.8h.3M574.6 578.2h.3M574.3 557.9h.3M560.5 527.5h.3M630.5 575.6h.3M577.9 573.1h.3M592.3 568.5h.3M562.6 581.0h.3M576.8 564.4h.3M553.8 575.2h.3M578.6 558.2h.3" stroke="#FF7F0E" stroke-width="0.75" stroke-linecap="round" fill="none"/>
<path d="M545.7 571.5h.3M614.0 547.4h.3M591.7 540.4h.3M568.2 558.7h.3M554.2 558.5h.3M562.8 564.5h.3M557.3 557.4h.3M593.4 531.6h.3M550.1 570.8h.3M551.8 570.0h.3M588.0 536.3h.3M612.2 545.9h.3M560.1 558.0h.3M565.6 564.1h.3M622.9 547.6h.3M555.1 555.6h.3M551.8 556.0h.3M563.8 558.9h.3M547.0 572.2h.3M618.6 546.0h.3M559.1 556.6h.3M628.6 563.7h.3M595.9 536.0h.3M612.5 551.7h.3M587.8 536.4h.3M555.5 565.6h.3M592.1 539.5h.3M549.7 570.6h.3M601.4 538.2h.3M574.9 552.1h.3M561.4 553.8h.3M555.6 558.7h.3M548.7 569.2h.3M620.8 551.0h.3M629.0 564.7h.3M562.3 554.0h.3M568.6 560.0h.3M613.5 548.9h.3M601.6 533.9h.3M595.0 540.1h.3M598.1 550.8h.3M614.6 546.9h.3M559.6 563.2h.3M569.3 562.5h.3M553.3 559.9h.3M595.1 537.4h.3M558.4 560.0h.3M596.1 531.6h.3M544.3 570.6h.3M560.6 560.1h.3M555.4 554.7h.3M593.4 536.4h.3M615.2 548.2h.3M629.8 561.1h.3M557.6 560.3h.3M594.0 535.1h.3M630.6 564.5h.3M590.9 530.3h.3M546.5 568.2h.3M597.5 547.4h.3M615.1 546.4h.3M559.6 554.5h.3M590.5 538.3h.3M596.4 533.8h.3M567.8 553.2h.3M550.6 568.7h.3M594.4 535.2h.3M609.4 548.5h.3M543.4 560.3h.3M552.4 556.6h.3M596.9 535.4h.3M550.0 562.9h.3M555.2 554.6h.3M555.4 556.2h.3M588.7 539.1h.3M557.0 562.3h.3M587.0 539.0h.3M549.2 556.9h.3M555.1 553.3h.3M624.3 550.2h.3M611.5 549.8h.3M577.1 551.2h.3M587.7 533.4h.3M550.2 571.3h.3M597.0 533.5h.3M562.1 557.3h.3M612.6 548.0h.3M592.6 539.5h.3M544.3 572.7h.3M614.2 546.2h.3M553.2 555.7h.3M632.6 565.8h.3M536.5 551.2h.3M559.1 561.4h.3M598.1 534.0h.3M609.1 550.1h.3M588.2 540.4h.3M590.9 535.1h.3M564.5 562.6h.3M560.2 558.5h.3M632.8 565.5h.3M558.3 561.6h.3M562.3 555.4h.3M555.2 550.7h.3M559.5 555.2h.3M560.7 555.2h.3M553.3 555.7h.3M591.4 540.6h.3M587.2 540.4h.3M559.1 559.0h.3M559.7 559.3h.3M548.2 574.6h.3M564.2 562.4h.3M591.9 535.3h.3M561.9 552.5h.3M615.6 551.0h.3M557.9 553.7h.3M554.0 558.8h.3M550.1 560.3h.3M587.4 535.8h.3M587.0 534.9h.3M548.9 575.0h.3M590.1 538.9h.3M589.8 541.7h.3M625.6 546.6h.3M621.0 547.2h.3M612.9 546.2h.3M611.7 547.5h.3M560.9 551.1h.3M599.3 539.8h.3M551.5 554.2h.3M620.7 547.5h.3M586.1 540.8h.3M548.2 574.6h.3M558.7 558.4h.3M554.8 561.2h.3M598.7 547.5h.3M617.0 546.9h.3M614.3 548.8h.3M560.1 557.6h.3M590.3 537.2h.3M588.8 539.5h.3M547.2 574.5h.3M596.0 536.9h.3M609.2 550.3h.3M559.7 556.8h.3M602.1 549.8h.3M560.4 553.8h.3M601.3 570.1h.3M628.3 561.9h.3M619.0 549.5h.3M554.0 555.1h.3M545.8 567.9h.3M558.2 556.0h.3M612.3 549.2h.3M568.3 555.0h.3M555.0 553.9h.3M596.2 532.3h.3M566.8 562.1h.3M596.2 539.8h.3M561.8 553.4h.3M604.6 548.0h.3M600.4 531.0h.3M569.9 557.2h.3M562.2 554.1h.3M561.9 561.8h.3M552.7 559.6h.3M593.4 549.0h.3M617.9 550.7h.3M558.9 557.8h.3M561.2 554.0h.3M550.1 567.8h.3M616.0 552.2h.3M565.6 555.7h.3M619.9 547.6h.3M585.8 535.1h.3M564.8 553.9h.3M565.4 563.9h.3M609.7 549.7h.3M556.8 558.0h.3M561.6 556.6h.3M545.4 568.1h.3M553.9 565.6h.3M568.7 560.1h.3M594.4 533.9h.3M597.7 537.7h.3M587.6 534.1h.3M562.9 555.7h.3M610.8 550.2h.3M590.1 537.8h.3M618.2 548.0h.3M576.2 551.3h.3M550.4 555.2h.3M555.7 560.6h.3M627.4 564.3h.3M561.0 558.2h.3M594.9 536.6h.3M552.4 558.3h.3M565.5 558.4h.3M551.4 558.4h.3M606.5 549.3h.3M565.5 558.8h.3M602.5 549.2h.3M565.2 560.6h.3M557.1 557.6h.3M617.4 551.1h.3M566.0 559.4h.3M562.8 554.7h.3M587.1 536.6h.3M560.5 559.9h.3M546.7 552.0h.3M561.9 562.1h.3M554.5 559.3h.3M545.6 574.6h.3M565.5 563.5h.3M550.5 563.5h.3M627.9 561.5h.3M543.8 571.3h.3M599.1 533.5h.3M548.3 555.3h.3M555.5 560.1h.3M591.3 539.5h.3M590.3 540.0h.3M593.0 527.9h.3M601.1 532.7h.3M610.4 550.6h.3M561.1 553.9h.3M595.9 540.1h.3M588.7 535.7h.3M561.5 557.4h.3M600.7 538.4h.3M603.7 549.2h.3M625.5 549.1h.3M564.6 556.4h.3M593.2 529.6h.3M606.8 549.2h.3M631.1 561.2h.3M622.0 548.8h.3M557.5 564.7h.3M567.3 563.5h.3M588.5 536.3h.3M567.7 551.8h.3M606.1 547.9h.3M563.9 564.7h.3M558.6 562.7h.3M613.3 548.4h.3M586.2 539.7h.3M551.4 564.3h.3M621.1 547.5h.3M562.4 562.7h.3M552.1 561.1h.3M592.3 530.9h.3M552.9 562.4h.3M587.9 538.4h.3M558.6 563.0h.3M566.8 560.8h.3M594.2 538.6h.3M589.4 539.2h.3M588.6 536.3h.3M595.2 533.1h.3M564.4 555.0h.3M565.0 557.5h.3M551.2 562.8h.3M595.1 531.1h.3M600.8 549.4h.3M600.4 534.3h.3M630.1 562.6h.3M567.3 555.1h.3M594.5 534.3h.3M596.0 536.8h.3M586.8 539.3h.3M612.4 551.3h.3M564.1 559.6h.3M628.2 561.9h.3M564.1 559.9h.3M600.8 547.1h.3M564.3 554.0h.3M588.6 538.2h.3M604.9 547.6h.3M554.6 559.7h.3M602.1 546.6h.3M552.5 561.4h.3M592.1 536.1h.3M586.4 534.4h.3M552.8 557.7h.3M587.4 534.0h.3M547.0 575.2h.3M562.4 557.9h.3M556.4 555.4h.3M608.9 550.5h.3M549.7 565.3h.3M555.6 556.1h.3M620.0 547.8h.3M557.3 552.4h.3M598.0 537.1h.3M556.8 563.1h.3M563.8 563.9h.3M598.2 539.2h.3M551.7 555.2h.3M548.0 574.1h.3M620.6 546.1h.3M565.0 566.2h.3M609.5 547.2h.3M600.0 532.0h.3M616.2 552.2h.3M559.4 551.9h.3M563.7 557.7h.3M596.8 551.0h.3M564.4 561.3h.3M615.6 551.5h.3M553.7 561.0h.3M586.5 536.8h.3M611.3 546.5h.3M591.3 531.2h.3M594.5 539.3h.3M621.1 545.5h.3M620.2 547.5h.3M616.9 545.5h.3M556.4 564.0h.3M599.1 546.7h.3M547.1 574.2h.3M546.9 568.4h.3M565.9 562.2h.3M549.5 558.7h.3M581.8 539.4h.3M587.8 536.8h.3M627.4 564.9h.3M594.8 538.8h.3M613.3 551.3h.3M598.3 532.5h.3M612.5 552.4h.3M569.1 558.2h.3M545.7 572.7h.3M564.9 563.1h.3M619.3 551.5h.3M628.4 561.6h.3M550.4 570.5h.3M570.0 556.1h.3M550.9 561.5h.3M557.2 562.3h.3M555.2 554.2h.3M586.8 533.6h.3M559.2 552.6h.3M619.0 545.2h.3M549.3 573.2h.3M601.3 546.9h.3M593.6 537.0h.3M606.6 549.7h.3M559.8 560.0h.3M613.5 548.4h.3M564.0 555.0h.3M547.2 567.4h.3M567.1 558.9h.3M589.3 538.2h.3M553.1 557.9h.3M543.4 568.8h.3M612.6 551.0h.3M578.9 551.5h.3M560.1 554.9h.3M590.6 538.2h.3M610.9 550.4h.3M551.3 573.8h.3M586.0 540.7h.3M557.2 563.6h.3M548.6 573.0h.3M562.7 558.0h.3M599.9 551.4h.3M557.3 563.1h.3M611.9 547.6h.3M566.4 561.9h.3M565.4 558.1h.3M616.4 545.8h.3M592.1 534.8h.3M564.3 559.5h.3M551.5 558.2h.3M562.4 559.6h.3M618.5 548.7h.3M615.5 548.3h.3M576.7 552.9h.3M588.0 540.3h.3M618.1 546.6h.3M600.9 534.7h.3M616.9 552.1h.3M563.6 558.8h.3M555.3 566.6h.3M595.7 537.2h.3M576.0 552.7h.3M558.5 559.5h.3M547.3 562.2h.3M562.3 555.5h.3M592.6 535.3h.3M613.8 551.5h.3M583.7 535.2h.3M560.1 555.1h.3M546.8 556.4h.3M603.7 548.1h.3M555.9 557.6h.3M589.8 535.8h.3" stroke="#2CA02C" stroke-width="0.75" stroke-linecap="round" fill="none"/>
<path d="M552.0 548.7h.3M600.7 554.7h.3M566.2 605.0h.3M614.6 558.6h.3M579.5 544.9h.3M600.1 553.0h.3M549.8 550.4h.3M546.4 552.8h.3M612.9 560.4h.3M578.7 543.5h.3M611.7 562.8h.3M615.8 556.6h.3M547.0 551.8h.3M621.9 560.3h.3M564.7 568.9h.3M574.7 541.1h.3M563.6 573.3h.3M562.1 568.7h.3M545.2 552.5h.3M618.0 559.0h.3M612.0 557.9h.3M609.2 562.4h.3M545.5 558.2h.3M552.9 548.5h.3M560.0 571.5h.3M613.6 552.5h.3M570.3 603.6h.3M578.9 538.9h.3M619.5 560.7h.3M572.9 603.1h.3M578.7 539.1h.3M545.7 553.8h.3M548.9 554.3h.3M609.1 562.2h.3M578.2 544.9h.3M574.4 541.9h.3M560.0 571.1h.3M545.8 561.9h.3M615.3 563.1h.3M616.5 562.4h.3M617.3 560.7h.3M610.6 563.0h.3M567.4 564.5h.3M606.1 560.0h.3M616.7 556.0h.3M600.4 577.9h.3M613.5 555.3h.3M599.2 557.8h.3M607.6 557.4h.3M579.2 536.7h.3M578.2 542.3h.3M546.6 551.4h.3M561.1 570.6h.3M615.9 558.9h.3M567.6 609.3h.3M612.6 555.9h.3M547.4 555.4h.3M546.5 554.3h.3M567.0 604.0h.3M606.9 557.8h.3M606.5 556.5h.3M619.6 560.2h.3M613.5 560.1h.3M566.6 604.7h.3M621.3 562.4h.3M552.1 548.7h.3M559.6 566.7h.3M615.9 561.3h.3M607.7 560.5h.3M574.8 547.7h.3M575.0 544.8h.3M600.6 558.3h.3M606.1 557.7h.3M558.5 570.0h.3M565.3 571.4h.3M616.6 555.0h.3M548.3 552.2h.3M545.0 557.2h.3M599.1 556.6h.3M617.1 557.7h.3M558.5 571.3h.3M543.8 556.8h.3M605.4 556.4h.3M604.0 558.1h.3M613.7 559.4h.3M545.8 554.4h.3M577.2 544.6h.3M578.2 546.0h.3M562.9 570.7h.3M558.8 571.7h.3M574.5 541.7h.3M570.6 568.1h.3M566.5 609.7h.3M612.0 559.4h.3M615.7 558.2h.3M547.6 559.8h.3M565.3 604.5h.3M613.0 552.0h.3M565.6 569.2h.3M614.2 557.6h.3M574.6 543.9h.3M555.3 551.2h.3M607.0 553.0h.3M614.7 559.7h.3M553.5 551.7h.3M560.0 569.5h.3M568.8 605.4h.3M606.2 552.6h.3M611.5 554.6h.3M609.3 556.6h.3M568.1 569.1h.3M617.0 555.9h.3M612.4 561.1h.3M573.5 545.6h.3M573.4 547.2h.3M561.3 565.6h.3M617.5 558.7h.3M568.7 601.7h.3M605.4 558.0h.3M547.9 550.7h.3M544.2 554.4h.3M613.0 560.3h.3M571.5 602.1h.3M570.1 565.2h.3M571.7 565.7h.3M567.2 603.3h.3M610.1 560.4h.3M568.5 565.5h.3M544.8 560.5h.3M554.5 549.3h.3M550.2 553.7h.3M608.6 552.3h.3M562.9 570.4h.3M564.8 569.4h.3M552.8 553.0h.3M603.5 553.8h.3M560.2 568.2h.3M568.0 604.3h.3M617.1 562.4h.3M564.0 569.0h.3M617.4 559.7h.3M554.4 552.3h.3M554.5 553.5h.3M545.1 554.9h.3M574.0 563.2h.3M550.1 548.7h.3M613.5 556.8h.3M568.3 566.9h.3M561.6 567.7h.3M602.9 554.4h.3M575.6 544.7h.3M562.1 572.2h.3M603.3 558.4h.3M605.7 559.8h.3M620.6 556.1h.3M605.2 554.6h.3M559.3 568.3h.3M544.6 557.8h.3M616.2 557.9h.3M617.7 558.2h.3M598.3 552.9h.3M570.0 564.0h.3M553.8 549.8h.3M573.0 600.3h.3M563.9 572.3h.3M550.7 552.2h.3M613.4 559.9h.3M605.6 560.1h.3M576.6 539.5h.3M564.4 565.1h.3M547.5 553.9h.3M544.0 555.1h.3M561.4 569.1h.3M606.8 552.0h.3M609.6 562.7h.3M553.8 551.6h.3M572.4 563.0h.3M573.7 601.9h.3M552.3 549.8h.3M621.8 557.1h.3M575.7 541.1h.3M607.2 555.4h.3M613.7 559.6h.3M547.8 550.5h.3M603.8 558.5h.3M617.3 558.9h.3M570.4 550.3h.3M602.9 555.6h.3M607.0 556.6h.3M612.9 557.5h.3M548.5 552.3h.3M551.3 553.7h.3M616.7 554.1h.3M620.3 559.2h.3M573.9 547.3h.3M545.3 555.5h.3M571.7 564.8h.3M566.3 566.2h.3M577.5 540.5h.3M570.3 567.2h.3M613.7 561.7h.3M551.9 547.6h.3M566.2 607.7h.3M551.0 548.8h.3M565.1 607.7h.3M567.9 565.1h.3M611.6 552.8h.3M606.9 555.4h.3M574.1 541.3h.3M564.5 567.2h.3M614.7 558.5h.3M566.9 604.9h.3M600.1 552.5h.3M610.2 557.5h.3M606.5 554.3h.3M610.6 558.9h.3M601.0 552.6h.3M562.5 567.9h.3M557.0 548.3h.3M572.6 543.4h.3M610.9 555.3h.3M599.8 560.2h.3M559.6 569.1h.3M564.2 565.2h.3M566.8 567.2h.3M609.5 559.7h.3M568.0 565.6h.3M605.1 555.7h.3M561.1 567.5h.3M564.3 567.4h.3M570.7 546.8h.3M557.8 569.0h.3M573.4 546.3h.3M617.8 562.6h.3M547.9 554.3h.3M618.1 555.5h.3M543.5 555.4h.3M613.1 560.8h.3M604.0 556.1h.3M559.4 566.7h.3M568.9 603.8h.3M571.5 603.6h.3M596.1 551.9h.3M619.9 558.4h.3M579.6 537.7h.3M546.7 555.0h.3M559.2 550.8h.3M570.2 551.1h.3M559.3 570.0h.3M612.4 556.8h.3M572.8 545.3h.3M581.1 535.7h.3M559.7 567.1h.3M562.6 567.4h.3M558.7 566.9h.3M574.5 600.9h.3M564.8 566.0h.3M574.0 548.9h.3M602.4 558.3h.3M544.6 552.7h.3M563.9 570.0h.3M555.6 571.5h.3M554.7 551.5h.3M604.5 553.7h.3M566.9 605.1h.3M545.5 550.8h.3M555.2 548.6h.3M572.5 547.7h.3M546.8 557.5h.3M607.7 560.9h.3M577.0 546.9h.3M607.6 556.0h.3M565.3 606.2h.3M549.3 554.9h.3M622.6 558.2h.3M621.2 560.7h.3M567.5 563.8h.3M607.4 560.2h.3M551.1 548.8h.3M556.8 568.6h.3M608.1 554.9h.3M610.8 561.0h.3M552.7 550.1h.3M556.1 571.9h.3M608.1 559.4h.3M565.1 565.4h.3M563.2 565.7h.3M614.8 557.3h.3M555.4 551.3h.3M615.0 553.6h.3M569.1 564.5h.3M546.4 553.7h.3M565.6 607.6h.3M572.6 549.8h.3M553.5 548.2h.3M562.8 565.8h.3M579.4 537.2h.3M613.8 556.5h.3M613.9 552.6h.3M550.2 554.6h.3M616.0 555.3h.3M566.1 602.5h.3M563.0 565.9h.3M605.0 558.2h.3M567.0 563.5h.3M558.3 569.3h.3M545.6 553.2h.3" stroke="#1F77B4" stroke-width="0.75" stroke-linecap="round" fill="none"/>
<path d="M578.8 560.1h.3M573.5 577.7h.3M548.5 562.8h.3M623.3 573.5h.3M611.7 570.1h.3M620.0 573.3h.3M584.5 566.9h.3M632.8 575.5h.3M564.8 582.5h.3M574.6 557.0h.3M571.0 579.2h.3M632.0 578.3h.3M564.8 580.9h.3M548.8 560.8h.3M574.9 556.6h.3M570.9 580.5h.3M551.0 562.4h.3M627.8 572.7h.3M572.4 563.0h.3M584.6 569.9h.3M595.9 569.2h.3M585.1 568.2h.3M569.2 581.0h.3M625.4 573.4h.3M587.3 573.1h.3M568.6 580.4h.3M567.5 578.7h.3M567.4 579.9h.3M573.8 563.1h.3M550.7 563.7h.3M633.1 572.9h.3M585.0 570.1h.3M592.1 573.0h.3M631.8 573.0h.3M589.8 568.2h.3M625.7 575.3h.3M566.0 580.1h.3M625.9 571.1h.3M584.1 566.5h.3M623.7 579.3h.3M619.0 574.6h.3M631.9 576.2h.3M633.1 576.9h.3M627.4 573.7h.3M569.4 580.8h.3M572.1 578.3h.3M562.8 581.4h.3M550.3 562.1h.3M632.8 573.5h.3M563.1 579.8h.3M636.4 575.7h.3M634.3 575.3h.3M623.0 572.7h.3M567.3 582.0h.3M584.6 572.1h.3M575.0 563.5h.3M573.6 561.3h.3M579.8 559.7h.3M584.7 568.0h.3M578.4 559.7h.3M592.5 574.0h.3M575.1 562.5h.3M569.3 581.8h.3M625.0 577.3h.3M628.8 573.5h.3M546.9 564.4h.3M631.9 572.5h.3M629.8 576.8h.3M563.5 580.7h.3M628.9 575.1h.3M562.6 579.7h.3M595.2 566.8h.3M587.2 565.8h.3M585.0 572.9h.3M624.5 570.2h.3M574.1 558.7h.3M629.2 575.4h.3M627.3 577.8h.3M553.4 575.4h.3M551.7 560.6h.3M627.9 575.0h.3M585.6 574.2h.3M552.3 562.6h.3M623.8 571.7h.3M588.3 574.6h.3M585.5 565.1h.3M579.8 564.8h.3M553.6 577.9h.3M629.8 574.0h.3M578.6 567.8h.3M619.6 572.3h.3M627.2 572.2h.3M576.7 560.6h.3M582.7 566.7h.3M574.8 578.4h.3M549.3 563.7h.3M628.3 573.8h.3M591.4 574.1h.3M554.1 561.3h.3M582.0 566.1h.3M553.4 567.1h.3M613.6 571.6h.3M580.8 565.9h.3M570.9 578.4h.3M620.3 573.2h.3M585.2 567.4h.3M548.9 576.2h.3M564.4 579.3h.3M563.8 581.2h.3M576.6 556.3h.3M554.7 577.2h.3M572.9 564.1h.3M626.2 570.7h.3M623.4 577.8h.3M570.3 578.7h.3M619.5 574.0h.3M620.8 576.4h.3M571.5 579.0h.3M581.2 562.0h.3M579.3 558.6h.3M576.9 561.8h.3M633.8 571.6h.3M578.6 560.8h.3M578.8 561.0h.3M588.8 570.9h.3M626.0 569.3h.3M554.2 565.0h.3M632.3 578.5h.3M623.5 573.8h.3M549.1 566.4h.3M587.4 569.1h.3M550.1 562.8h.3M573.4 577.4h.3M630.2 579.2h.3M591.1 569.3h.3M574.0 559.8h.3M594.7 570.5h.3M621.5 571.2h.3M576.5 565.3h.3M590.8 572.0h.3M571.9 578.7h.3M551.4 562.7h.3M617.5 569.4h.3M571.9 581.5h.3M581.0 568.3h.3M583.2 572.9h.3M635.2 576.8h.3M586.6 571.2h.3M553.2 563.4h.3M626.0 578.1h.3M560.0 580.8h.3M612.2 569.3h.3M622.0 573.5h.3M632.4 574.8h.3M622.4 577.4h.3M623.6 576.5h.3M550.4 562.5h.3M629.2 577.5h.3M577.7 565.3h.3M573.8 579.2h.3M577.8 565.6h.3M576.2 561.4h.3M578.5 557.1h.3M589.5 573.4h.3M573.2 579.0h.3M572.5 576.4h.3M595.1 570.5h.3M622.0 573.8h.3M564.9 578.9h.3M564.0 580.0h.3M581.1 567.5h.3M554.6 562.9h.3M619.9 573.8h.3M579.0 564.0h.3M575.8 564.5h.3M634.1 576.2h.3M548.5 563.3h.3M630.3 574.1h.3M622.7 574.8h.3M555.7 578.2h.3M573.5 579.1h.3M571.2 581.4h.3M621.2 571.8h.3M575.1 561.3h.3M578.1 560.2h.3M568.8 577.2h.3M570.9 579.9h.3M630.2 574.4h.3M552.6 574.9h.3M626.5 574.1h.3M574.6 564.4h.3M576.6 563.7h.3M622.7 572.6h.3M549.9 565.6h.3M577.2 556.4h.3M581.1 560.4h.3M629.0 577.7h.3M555.8 577.4h.3M618.4 570.7h.3M579.0 571.0h.3M590.8 574.4h.3M621.2 577.4h.3M573.3 562.4h.3M593.7 566.6h.3M581.5 572.4h.3M571.2 576.5h.3M620.0 574.0h.3M627.0 570.1h.3M582.0 560.8h.3M588.7 566.6h.3M624.4 577.2h.3M584.9 569.4h.3M631.0 570.9h.3M636.7 575.7h.3M630.4 574.5h.3M565.2 581.7h.3M619.2 571.8h.3M586.2 569.0h.3M620.5 568.3h.3M564.5 580.7h.3M623.3 575.4h.3M636.6 574.8h.3M579.8 559.3h.3M592.4 573.5h.3M554.8 575.6h.3M587.1 567.3h.3M550.7 578.2h.3M584.3 567.5h.3M631.3 572.3h.3M619.5 573.1h.3M579.9 569.3h.3M631.7 579.0h.3M584.2 567.9h.3M576.1 579.2h.3M581.4 568.4h.3M580.9 572.9h.3M566.3 581.2h.3M628.4 580.2h.3M566.9 580.4h.3M554.6 563.7h.3M581.0 562.6h.3M550.7 565.7h.3M631.1 576.4h.3M626.0 573.5h.3M586.3 567.5h.3M547.9 561.7h.3M587.1 569.8h.3M570.6 578.6h.3M548.3 565.8h.3M576.2 559.3h.3M585.4 570.7h.3M630.5 573.1h.3M591.8 568.7h.3M555.6 578.7h.3M591.1 567.2h.3M554.0 565.0h.3M577.9 564.7h.3M565.5 577.7h.3M549.3 563.8h.3M615.8 570.5h.3M628.1 572.7h.3M570.9 577.9h.3M632.5 571.8h.3M619.5 574.4h.3M549.0 566.6h.3M579.9 562.2h.3M591.1 568.0h.3M630.8 575.9h.3M568.1 579.7h.3M565.5 582.6h.3M579.4 567.8h.3M586.7 573.2h.3M628.5 575.0h.3M581.4 560.2h.3M581.4 563.6h.3M556.8 576.6h.3M592.2 568.8h.3M579.3 560.5h.3M589.5 572.1h.3M623.0 574.8h.3M629.9 578.5h.3M595.5 569.8h.3M588.0 573.5h.3M627.7 577.9h.3M583.5 566.8h.3M591.9 570.1h.3M594.7 572.9h.3M569.2 579.1h.3M569.8 579.4h.3M546.8 563.1h.3M549.9 577.4h.3M572.7 581.2h.3M622.8 576.8h.3M582.6 572.3h.3M579.8 561.4h.3M566.0 580.9h.3M547.1 564.6h.3M623.8 577.8h.3" stroke="#FF7F0E" stroke-width="0.75" stroke-linecap="round" fill="none"/>
<path d="M597.8 530.9h.3M597.7 535.8h.3M568.1 559.6h.3M561.2 556.4h.3M593.5 537.3h.3M628.9 566.8h.3M557.6 551.9h.3M591.0 531.2h.3M547.8 567.6h.3M559.0 556.6h.3M592.6 537.4h.3M596.7 535.4h.3M604.8 549.8h.3M622.1 546.0h.3M618.4 551.5h.3M546.9 569.2h.3M570.8 558.1h.3M594.2 536.2h.3M605.4 548.7h.3M565.0 553.5h.3M558.8 558.7h.3M615.3 550.0h.3M561.2 565.7h.3M596.8 535.2h.3M622.7 546.9h.3M571.3 560.1h.3M552.3 559.6h.3M590.3 539.7h.3M554.6 556.1h.3M597.5 539.5h.3M591.7 536.5h.3M594.7 540.2h.3M545.9 568.0h.3M576.4 552.7h.3M594.9 530.7h.3M630.7 561.3h.3M562.6 560.0h.3M598.5 538.5h.3M586.6 536.8h.3M546.0 573.8h.3M618.7 548.9h.3M558.4 561.6h.3M565.3 562.2h.3M612.2 549.2h.3M557.0 559.0h.3M618.4 550.5h.3M594.3 550.2h.3M597.1 537.7h.3M552.5 561.0h.3M588.0 540.0h.3M567.3 556.3h.3M553.0 572.0h.3M561.3 559.5h.3M550.5 567.3h.3M544.9 559.5h.3M576.8 551.8h.3M622.1 547.7h.3M604.6 550.3h.3M559.5 555.6h.3M592.4 540.5h.3M589.6 531.3h.3M600.0 532.8h.3M633.4 563.7h.3M622.6 548.0h.3M601.0 547.4h.3M554.7 556.5h.3M631.0 565.2h.3M548.4 556.4h.3M549.3 554.1h.3M629.1 562.1h.3M562.5 549.2h.3M595.1 534.3h.3M566.9 562.1h.3M592.1 530.1h.3M600.2 531.1h.3M555.7 556.9h.3M611.7 552.8h.3M602.4 531.5h.3M623.2 546.9h.3M560.8 559.5h.3M615.8 547.9h.3M600.0 533.9h.3M549.1 570.3h.3M614.6 551.4h.3M614.9 550.9h.3M545.5 574.7h.3M598.2 551.8h.3M561.7 555.6h.3M593.9 535.4h.3M557.6 558.0h.3M631.4 564.9h.3M562.8 559.8h.3M559.3 552.4h.3M621.5 549.1h.3M556.4 562.3h.3M612.1 549.4h.3M621.6 548.5h.3M597.1 531.8h.3M561.9 564.3h.3M559.2 556.1h.3M563.1 563.7h.3M548.0 568.3h.3M551.2 558.6h.3M628.4 565.6h.3M556.9 565.4h.3M559.0 552.0h.3M592.0 540.3h.3M548.1 556.6h.3M594.2 538.1h.3M593.2 539.5h.3M596.0 541.1h.3M555.5 563.7h.3M545.0 573.3h.3M561.5 554.2h.3M564.9 564.4h.3M600.4 535.5h.3M578.0 550.9h.3M596.5 551.6h.3M597.4 549.1h.3M545.2 571.1h.3M554.3 560.8h.3M562.7 564.6h.3M616.9 545.6h.3M595.8 535.4h.3M588.9 539.4h.3M550.6 569.1h.3M551.1 554.2h.3M547.6 570.7h.3M550.0 559.0h.3M589.7 530.3h.3M555.5 554.3h.3M622.5 548.6h.3M591.6 537.5h.3M561.0 553.3h.3M625.2 549.7h.3M593.9 532.7h.3M590.4 539.1h.3M614.7 548.4h.3M627.8 563.6h.3M588.7 541.7h.3M624.3 546.5h.3M621.7 544.9h.3M600.5 536.1h.3M551.2 570.9h.3M552.0 562.1h.3M555.5 558.7h.3M554.7 554.2h.3M615.1 548.0h.3M561.2 562.7h.3M556.2 559.5h.3M619.5 548.9h.3M566.3 558.6h.3M601.2 551.1h.3M545.4 573.3h.3M558.4 558.7h.3M619.1 548.4h.3M621.2 548.3h.3M623.3 548.0h.3M598.3 535.9h.3M628.3 564.4h.3M632.1 566.3h.3M593.0 535.9h.3M595.1 549.0h.3M550.9 559.3h.3M550.9 555.8h.3M566.2 557.7h.3M619.5 548.6h.3M559.9 556.6h.3M623.2 547.5h.3M592.4 539.7h.3M631.3 563.8h.3M631.3 566.4h.3M565.8 557.4h.3M548.7 567.7h.3M631.1 564.4h.3M590.2 535.5h.3M552.5 569.7h.3M554.2 559.7h.3M562.2 566.1h.3M546.7 569.7h.3M547.2 575.0h.3M596.2 531.4h.3M594.1 539.1h.3M590.2 533.8h.3M596.9 532.9h.3M591.3 534.6h.3M593.8 530.8h.3M596.9 538.3h.3M591.7 532.8h.3M554.9 566.4h.3M556.9 552.4h.3M597.8 539.6h.3M600.4 536.3h.3M595.9 537.1h.3M564.6 559.9h.3M585.5 534.7h.3M631.2 566.0h.3M559.7 557.1h.3M561.1 566.5h.3M620.7 548.8h.3M598.7 550.5h.3M631.8 564.7h.3M564.9 562.5h.3M593.7 536.4h.3M565.0 559.5h.3M556.8 561.5h.3M596.6 535.4h.3M589.1 534.8h.3M587.1 533.1h.3M618.0 545.7h.3M614.6 549.4h.3M559.4 558.2h.3M618.8 548.0h.3M557.8 559.5h.3M600.0 535.8h.3M601.5 534.4h.3M546.8 568.4h.3M601.9 549.9h.3M596.9 549.5h.3M591.8 535.6h.3M606.3 550.5h.3M588.8 534.9h.3M562.0 562.1h.3M619.4 549.0h.3M627.4 564.7h.3M561.1 559.3h.3M592.3 536.6h.3M549.3 574.7h.3M606.7 548.7h.3M568.4 558.7h.3M590.6 538.5h.3M552.7 556.1h.3M611.5 548.6h.3M619.5 550.7h.3M597.2 530.7h.3M628.2 567.0h.3M563.2 561.8h.3M585.9 537.6h.3M601.1 537.8h.3M551.5 556.9h.3M610.8 548.4h.3M554.4 557.6h.3M619.4 546.5h.3M569.4 554.2h.3M562.3 554.3h.3M616.5 546.3h.3M613.6 549.0h.3M620.6 546.9h.3M552.6 558.6h.3M550.3 561.4h.3M623.2 545.3h.3M562.7 553.9h.3M563.2 555.1h.3M550.2 560.7h.3M594.2 533.1h.3M617.2 552.3h.3M580.4 551.9h.3M597.4 550.6h.3M620.3 552.0h.3M587.4 535.2h.3M629.8 564.9h.3M544.4 570.3h.3M605.6 548.5h.3M617.9 548.7h.3M584.1 537.4h.3M593.1 540.3h.3M560.1 554.8h.3M553.9 561.3h.3M566.0 554.1h.3M556.8 553.7h.3M554.2 553.2h.3M597.7 538.8h.3M589.0 536.7h.3M575.7 551.8h.3M568.2 559.0h.3M587.8 537.7h.3M561.2 564.0h.3M557.3 559.1h.3M553.2 559.2h.3M548.1 572.7h.3M559.7 557.1h.3M546.6 568.1h.3M543.1 573.1h.3M563.2 564.4h.3M560.2 557.8h.3M617.8 548.3h.3M566.0 559.8h.3M565.1 554.1h.3M608.6 548.3h.3M610.5 550.0h.3M557.0 556.7h.3M556.8 553.9h.3M612.0 550.5h.3M589.8 535.9h.3M598.0 538.9h.3M562.6 555.8h.3M549.3 557.3h.3M590.8 530.2h.3M621.6 546.8h.3M596.4 539.0h.3M593.5 535.6h.3M550.9 559.0h.3M596.8 549.2h.3M606.2 550.5h.3M557.3 557.7h.3M586.7 533.3h.3M591.0 538.6h.3M591.4 531.1h.3M552.0 559.3h.3M590.3 536.8h.3M596.2 547.1h.3M560.3 559.9h.3M624.8 545.2h.3M546.8 560.2h.3M552.3 551.1h.3M544.9 571.1h.3M633.0 563.6h.3M618.4 551.4h.3M551.3 564.8h.3M560.1 562.3h.3M550.7 569.0h.3M604.9 550.1h.3M590.7 534.6h.3M563.2 555.2h.3M632.5 565.2h.3M622.9 545.0h.3M595.8 531.2h.3M568.8 556.9h.3M592.0 549.5h.3M571.4 560.4h.3M597.6 535.6h.3M630.8 561.2h.3M619.6 546.3h.3M619.7 549.9h.3M609.3 550.9h.3M617.0 549.3h.3M565.2 561.1h.3M559.4 554.7h.3M612.4 551.2h.3M553.7 553.4h.3M614.7 550.5h.3M552.2 553.7h.3M591.5 530.7h.3M560.3 552.6h.3M595.7 536.3h.3M554.4 555.8h.3M559.9 559.1h.3M557.5 558.2h.3M616.9 548.9h.3M566.3 559.6h.3M620.8 551.0h.3M594.0 535.1h.3M561.5 562.2h.3M558.4 564.6h.3M561.9 562.2h.3M546.0 573.9h.3M593.4 531.2h.3M559.7 555.0h.3M612.7 549.8h.3M604.7 549.4h.3M614.6 547.7h.3M588.8 534.0h.3M599.8 532.7h.3M587.4 538.2h.3M546.6 568.9h.3M565.3 563.0h.3M610.5 551.7h.3M586.6 536.9h.3M623.6 547.0h.3M568.9 559.8h.3M593.6 533.4h.3M593.6 535.4h.3M594.6 538.4h.3M569.0 560.7h.3M558.9 558.1h.3M607.8 550.5h.3M629.7 565.7h.3M562.9 562.3h.3M614.2 550.4h.3M618.9 550.8h.3M615.1 549.5h.3M633.6 562.9h.3M624.5 547.6h.3M614.8 548.6h.3M551.2 564.0h.3M563.5 554.2h.3M623.6 546.0h.3M614.0 548.4h.3M554.2 556.1h.3M562.4 556.6h.3M630.2 561.9h.3M600.2 531.7h.3M558.3 563.5h.3M588.6 537.2h.3M594.8 531.7h.3M610.1 549.5h.3M551.3 561.1h.3M550.4 567.7h.3" stroke="#2CA02C" stroke-width="0.75" stroke-linecap="round" fill="none"/>
<polyline points="529.50,509.50 640.50,509.50 640.50,616.50 529.50,616.50 529.50,509.50" fill="none" stroke="#111" stroke-width="1.0" stroke-linecap="square"/>
<line x1="525.00" y1="596.30" x2="529.50" y2="596.30" stroke="#222" stroke-width="0.8"/>
<text x="520.60" y="599.30" font-size="9.3" text-anchor="end" fill="#141414" stroke="#141414" stroke-width="0.12">0</text>
<line x1="525.00" y1="570.80" x2="529.50" y2="570.80" stroke="#222" stroke-width="0.8"/>
<text x="520.60" y="573.80" font-size="9.3" text-anchor="end" fill="#141414" stroke="#141414" stroke-width="0.12">5</text>
<line x1="525.00" y1="545.30" x2="529.50" y2="545.30" stroke="#222" stroke-width="0.8"/>
<text x="520.60" y="548.30" font-size="9.3" text-anchor="end" fill="#141414" stroke="#141414" stroke-width="0.12">10</text>
<line x1="525.00" y1="519.80" x2="529.50" y2="519.80" stroke="#222" stroke-width="0.8"/>
<text x="520.60" y="522.80" font-size="9.3" text-anchor="end" fill="#141414" stroke="#141414" stroke-width="0.12">15</text>
<line x1="567.00" y1="616.50" x2="567.00" y2="620.10" stroke="#222" stroke-width="0.8"/>
<text x="567.00" y="632.50" font-size="9.3" text-anchor="middle" fill="#141414" stroke="#141414" stroke-width="0.12">0</text>
<line x1="620.60" y1="616.50" x2="620.60" y2="620.10" stroke="#222" stroke-width="0.8"/>
<text x="620.60" y="632.50" font-size="9.3" text-anchor="middle" fill="#141414" stroke="#141414" stroke-width="0.12">10</text>
<text x="585.20" y="646.50" font-size="9.3" text-anchor="middle" fill="#141414" stroke="#141414" stroke-width="0.12">UMAP 1</text>
<text x="503.60" y="563.20" font-size="9.3" text-anchor="middle" fill="#141414" stroke="#141414" stroke-width="0.12" transform="rotate(-90 503.60 563.20)">UMAP 2</text>
</svg>
</body></html>
